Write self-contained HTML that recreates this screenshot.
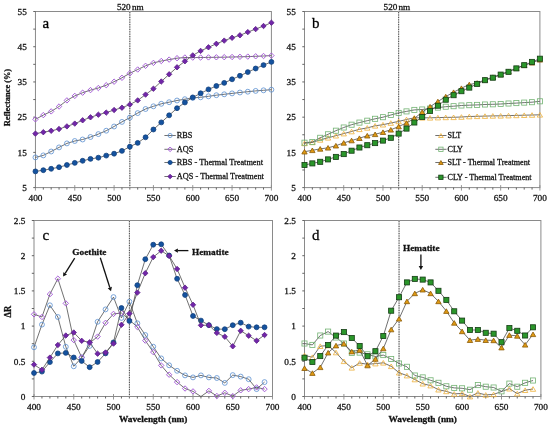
<!DOCTYPE html>
<html><head><meta charset="utf-8"><title>Reflectance spectra</title>
<style>
html,body{margin:0;padding:0;background:#fff;}
body{width:550px;height:428px;overflow:hidden;}
svg{display:block;will-change:transform;}
text{stroke:#111;stroke-width:0.28px;paint-order:stroke;}
.t{font-family:"Liberation Serif",serif;font-size:9.3px;fill:#111;}
.t5{font-family:"Liberation Serif",serif;font-size:9.2px;fill:#111;}
.lg{font-family:"Liberation Serif",serif;font-size:8.12px;fill:#111;}
.lga{font-family:"Liberation Serif",serif;font-size:8.3px;fill:#111;}
.rf{font-family:"Liberation Serif",serif;font-size:8.4px;font-weight:bold;fill:#111;}
.tb{font-family:"Liberation Serif",serif;font-size:9.3px;font-weight:bold;fill:#111;}
.lab{font-family:"Liberation Serif",serif;font-size:15px;fill:#000;}
</style></head>
<body>
<svg width="550" height="428" viewBox="0 0 550 428">
<rect width="550" height="428" fill="#fff"/>
<rect x="35.45" y="11.50" width="235.95" height="176.10" fill="none" stroke="#8a8a8a" stroke-width="1"/>
<line x1="35.45" y1="185.10" x2="35.45" y2="190.60" stroke="#8a8a8a" stroke-width="0.9"/>
<line x1="43.32" y1="187.60" x2="43.32" y2="189.60" stroke="#555" stroke-width="0.9"/>
<line x1="51.18" y1="187.60" x2="51.18" y2="189.60" stroke="#555" stroke-width="0.9"/>
<line x1="59.05" y1="187.60" x2="59.05" y2="189.60" stroke="#555" stroke-width="0.9"/>
<line x1="66.91" y1="187.60" x2="66.91" y2="189.60" stroke="#555" stroke-width="0.9"/>
<line x1="74.78" y1="185.10" x2="74.78" y2="190.60" stroke="#8a8a8a" stroke-width="0.9"/>
<line x1="82.64" y1="187.60" x2="82.64" y2="189.60" stroke="#555" stroke-width="0.9"/>
<line x1="90.50" y1="187.60" x2="90.50" y2="189.60" stroke="#555" stroke-width="0.9"/>
<line x1="98.37" y1="187.60" x2="98.37" y2="189.60" stroke="#555" stroke-width="0.9"/>
<line x1="106.23" y1="187.60" x2="106.23" y2="189.60" stroke="#555" stroke-width="0.9"/>
<line x1="114.10" y1="185.10" x2="114.10" y2="190.60" stroke="#8a8a8a" stroke-width="0.9"/>
<line x1="121.96" y1="187.60" x2="121.96" y2="189.60" stroke="#555" stroke-width="0.9"/>
<line x1="129.83" y1="187.60" x2="129.83" y2="189.60" stroke="#555" stroke-width="0.9"/>
<line x1="137.69" y1="187.60" x2="137.69" y2="189.60" stroke="#555" stroke-width="0.9"/>
<line x1="145.56" y1="187.60" x2="145.56" y2="189.60" stroke="#555" stroke-width="0.9"/>
<line x1="153.43" y1="185.10" x2="153.43" y2="190.60" stroke="#8a8a8a" stroke-width="0.9"/>
<line x1="161.29" y1="187.60" x2="161.29" y2="189.60" stroke="#555" stroke-width="0.9"/>
<line x1="169.15" y1="187.60" x2="169.15" y2="189.60" stroke="#555" stroke-width="0.9"/>
<line x1="177.02" y1="187.60" x2="177.02" y2="189.60" stroke="#555" stroke-width="0.9"/>
<line x1="184.88" y1="187.60" x2="184.88" y2="189.60" stroke="#555" stroke-width="0.9"/>
<line x1="192.75" y1="185.10" x2="192.75" y2="190.60" stroke="#8a8a8a" stroke-width="0.9"/>
<line x1="200.62" y1="187.60" x2="200.62" y2="189.60" stroke="#555" stroke-width="0.9"/>
<line x1="208.48" y1="187.60" x2="208.48" y2="189.60" stroke="#555" stroke-width="0.9"/>
<line x1="216.35" y1="187.60" x2="216.35" y2="189.60" stroke="#555" stroke-width="0.9"/>
<line x1="224.21" y1="187.60" x2="224.21" y2="189.60" stroke="#555" stroke-width="0.9"/>
<line x1="232.07" y1="185.10" x2="232.07" y2="190.60" stroke="#8a8a8a" stroke-width="0.9"/>
<line x1="239.94" y1="187.60" x2="239.94" y2="189.60" stroke="#555" stroke-width="0.9"/>
<line x1="247.81" y1="187.60" x2="247.81" y2="189.60" stroke="#555" stroke-width="0.9"/>
<line x1="255.67" y1="187.60" x2="255.67" y2="189.60" stroke="#555" stroke-width="0.9"/>
<line x1="263.53" y1="187.60" x2="263.53" y2="189.60" stroke="#555" stroke-width="0.9"/>
<line x1="271.40" y1="185.10" x2="271.40" y2="190.60" stroke="#8a8a8a" stroke-width="0.9"/>
<line x1="33.25" y1="11.50" x2="35.45" y2="11.50" stroke="#555" stroke-width="0.9"/>
<line x1="33.25" y1="29.11" x2="35.45" y2="29.11" stroke="#555" stroke-width="0.9"/>
<line x1="33.25" y1="46.72" x2="35.45" y2="46.72" stroke="#555" stroke-width="0.9"/>
<line x1="33.25" y1="64.33" x2="35.45" y2="64.33" stroke="#555" stroke-width="0.9"/>
<line x1="33.25" y1="81.94" x2="35.45" y2="81.94" stroke="#555" stroke-width="0.9"/>
<line x1="33.25" y1="99.55" x2="35.45" y2="99.55" stroke="#555" stroke-width="0.9"/>
<line x1="33.25" y1="117.16" x2="35.45" y2="117.16" stroke="#555" stroke-width="0.9"/>
<line x1="33.25" y1="134.77" x2="35.45" y2="134.77" stroke="#555" stroke-width="0.9"/>
<line x1="33.25" y1="152.38" x2="35.45" y2="152.38" stroke="#555" stroke-width="0.9"/>
<line x1="33.25" y1="169.99" x2="35.45" y2="169.99" stroke="#555" stroke-width="0.9"/>
<line x1="33.25" y1="187.60" x2="35.45" y2="187.60" stroke="#555" stroke-width="0.9"/>
<text transform="matrix(1 0 0 0.91 26.85 14.80)" class="t" text-anchor="end">55</text>
<text transform="matrix(1 0 0 0.91 26.85 50.02)" class="t" text-anchor="end">45</text>
<text transform="matrix(1 0 0 0.91 26.85 85.24)" class="t" text-anchor="end">35</text>
<text transform="matrix(1 0 0 0.91 26.85 120.46)" class="t" text-anchor="end">25</text>
<text transform="matrix(1 0 0 0.91 26.85 155.68)" class="t" text-anchor="end">15</text>
<text transform="matrix(1 0 0 0.91 26.85 190.90)" class="t" text-anchor="end">5</text>
<text transform="matrix(1 0 0 0.91 35.45 201.30)" class="t" text-anchor="middle">400</text>
<text transform="matrix(1 0 0 0.91 74.78 201.30)" class="t" text-anchor="middle">450</text>
<text transform="matrix(1 0 0 0.91 114.10 201.30)" class="t" text-anchor="middle">500</text>
<text transform="matrix(1 0 0 0.91 153.43 201.30)" class="t" text-anchor="middle">550</text>
<text transform="matrix(1 0 0 0.91 192.75 201.30)" class="t" text-anchor="middle">600</text>
<text transform="matrix(1 0 0 0.91 232.07 201.30)" class="t" text-anchor="middle">650</text>
<text transform="matrix(1 0 0 0.91 271.40 201.30)" class="t" text-anchor="middle">700</text>
<line x1="129.83" y1="11.50" x2="129.83" y2="187.60" stroke="#cfcfcf" stroke-width="1"/>
<line x1="129.83" y1="12.00" x2="129.83" y2="187.60" stroke="#4a4a4a" stroke-width="1" stroke-dasharray="1.2 1.2"/>
<text transform="matrix(1 0 0 0.91 116.90 9.80)" class="t5">520</text>
<text transform="matrix(1 0 0 0.91 131.90 9.80)" class="t5">nm</text>
<path d="M35.45 119.30 L43.32 115.10 L51.18 111.40 L59.05 106.50 L66.91 100.40 L74.78 95.90 L82.64 92.70 L90.50 90.10 L98.37 88.00 L106.23 85.20 L114.10 81.70 L121.96 77.80 L129.83 73.30 L137.69 69.50 L145.56 65.80 L153.43 62.90 L161.29 61.00 L169.15 59.60 L177.02 58.20 L184.88 57.50 L192.75 57.60 L200.62 57.50 L208.48 57.40 L216.35 57.30 L224.21 57.20 L232.07 57.00 L239.94 56.80 L247.81 56.60 L255.67 56.30 L263.53 56.00 L271.40 55.60" fill="none" stroke="#4d4d4d" stroke-width="0.8"/>
<path d="M35.45 116.60L38.15 119.30L35.45 122.00L32.75 119.30Z" fill="none" stroke="#a35ad6" stroke-width="0.95"/>
<path d="M43.32 112.40L46.02 115.10L43.32 117.80L40.62 115.10Z" fill="none" stroke="#a35ad6" stroke-width="0.95"/>
<path d="M51.18 108.70L53.88 111.40L51.18 114.10L48.48 111.40Z" fill="none" stroke="#a35ad6" stroke-width="0.95"/>
<path d="M59.05 103.80L61.75 106.50L59.05 109.20L56.34 106.50Z" fill="none" stroke="#a35ad6" stroke-width="0.95"/>
<path d="M66.91 97.70L69.61 100.40L66.91 103.10L64.21 100.40Z" fill="none" stroke="#a35ad6" stroke-width="0.95"/>
<path d="M74.78 93.20L77.48 95.90L74.78 98.60L72.08 95.90Z" fill="none" stroke="#a35ad6" stroke-width="0.95"/>
<path d="M82.64 90.00L85.34 92.70L82.64 95.40L79.94 92.70Z" fill="none" stroke="#a35ad6" stroke-width="0.95"/>
<path d="M90.50 87.40L93.20 90.10L90.50 92.80L87.80 90.10Z" fill="none" stroke="#a35ad6" stroke-width="0.95"/>
<path d="M98.37 85.30L101.07 88.00L98.37 90.70L95.67 88.00Z" fill="none" stroke="#a35ad6" stroke-width="0.95"/>
<path d="M106.23 82.50L108.94 85.20L106.23 87.90L103.53 85.20Z" fill="none" stroke="#a35ad6" stroke-width="0.95"/>
<path d="M114.10 79.00L116.80 81.70L114.10 84.40L111.40 81.70Z" fill="none" stroke="#a35ad6" stroke-width="0.95"/>
<path d="M121.96 75.10L124.66 77.80L121.96 80.50L119.26 77.80Z" fill="none" stroke="#a35ad6" stroke-width="0.95"/>
<path d="M129.83 70.60L132.53 73.30L129.83 76.00L127.13 73.30Z" fill="none" stroke="#a35ad6" stroke-width="0.95"/>
<path d="M137.69 66.80L140.39 69.50L137.69 72.20L135.00 69.50Z" fill="none" stroke="#a35ad6" stroke-width="0.95"/>
<path d="M145.56 63.10L148.26 65.80L145.56 68.50L142.86 65.80Z" fill="none" stroke="#a35ad6" stroke-width="0.95"/>
<path d="M153.43 60.20L156.12 62.90L153.43 65.60L150.73 62.90Z" fill="none" stroke="#a35ad6" stroke-width="0.95"/>
<path d="M161.29 58.30L163.99 61.00L161.29 63.70L158.59 61.00Z" fill="none" stroke="#a35ad6" stroke-width="0.95"/>
<path d="M169.15 56.90L171.85 59.60L169.15 62.30L166.45 59.60Z" fill="none" stroke="#a35ad6" stroke-width="0.95"/>
<path d="M177.02 55.50L179.72 58.20L177.02 60.90L174.32 58.20Z" fill="none" stroke="#a35ad6" stroke-width="0.95"/>
<path d="M184.88 54.80L187.58 57.50L184.88 60.20L182.19 57.50Z" fill="none" stroke="#a35ad6" stroke-width="0.95"/>
<path d="M192.75 54.90L195.45 57.60L192.75 60.30L190.05 57.60Z" fill="none" stroke="#a35ad6" stroke-width="0.95"/>
<path d="M200.62 54.80L203.31 57.50L200.62 60.20L197.92 57.50Z" fill="none" stroke="#a35ad6" stroke-width="0.95"/>
<path d="M208.48 54.70L211.18 57.40L208.48 60.10L205.78 57.40Z" fill="none" stroke="#a35ad6" stroke-width="0.95"/>
<path d="M216.35 54.60L219.05 57.30L216.35 60.00L213.65 57.30Z" fill="none" stroke="#a35ad6" stroke-width="0.95"/>
<path d="M224.21 54.50L226.91 57.20L224.21 59.90L221.51 57.20Z" fill="none" stroke="#a35ad6" stroke-width="0.95"/>
<path d="M232.07 54.30L234.77 57.00L232.07 59.70L229.38 57.00Z" fill="none" stroke="#a35ad6" stroke-width="0.95"/>
<path d="M239.94 54.10L242.64 56.80L239.94 59.50L237.24 56.80Z" fill="none" stroke="#a35ad6" stroke-width="0.95"/>
<path d="M247.81 53.90L250.50 56.60L247.81 59.30L245.11 56.60Z" fill="none" stroke="#a35ad6" stroke-width="0.95"/>
<path d="M255.67 53.60L258.37 56.30L255.67 59.00L252.97 56.30Z" fill="none" stroke="#a35ad6" stroke-width="0.95"/>
<path d="M263.53 53.30L266.23 56.00L263.53 58.70L260.83 56.00Z" fill="none" stroke="#a35ad6" stroke-width="0.95"/>
<path d="M271.40 52.90L274.10 55.60L271.40 58.30L268.70 55.60Z" fill="none" stroke="#a35ad6" stroke-width="0.95"/>
<path d="M35.45 157.40 L43.32 155.40 L51.18 151.50 L59.05 147.40 L66.91 143.40 L74.78 141.00 L82.64 139.50 L90.50 137.00 L98.37 134.10 L106.23 130.70 L114.10 126.50 L121.96 121.90 L129.83 117.60 L137.69 113.10 L145.56 109.00 L153.43 106.30 L161.29 103.80 L169.15 102.20 L177.02 100.50 L184.88 99.20 L192.75 97.90 L200.62 97.30 L208.48 96.30 L216.35 95.20 L224.21 94.30 L232.07 93.40 L239.94 92.50 L247.81 91.70 L255.67 90.90 L263.53 90.30 L271.40 89.70" fill="none" stroke="#4d4d4d" stroke-width="0.8"/>
<circle cx="35.45" cy="157.40" r="2.45" fill="none" stroke="#5b8fd0" stroke-width="0.8"/>
<circle cx="43.32" cy="155.40" r="2.45" fill="none" stroke="#5b8fd0" stroke-width="0.8"/>
<circle cx="51.18" cy="151.50" r="2.45" fill="none" stroke="#5b8fd0" stroke-width="0.8"/>
<circle cx="59.05" cy="147.40" r="2.45" fill="none" stroke="#5b8fd0" stroke-width="0.8"/>
<circle cx="66.91" cy="143.40" r="2.45" fill="none" stroke="#5b8fd0" stroke-width="0.8"/>
<circle cx="74.78" cy="141.00" r="2.45" fill="none" stroke="#5b8fd0" stroke-width="0.8"/>
<circle cx="82.64" cy="139.50" r="2.45" fill="none" stroke="#5b8fd0" stroke-width="0.8"/>
<circle cx="90.50" cy="137.00" r="2.45" fill="none" stroke="#5b8fd0" stroke-width="0.8"/>
<circle cx="98.37" cy="134.10" r="2.45" fill="none" stroke="#5b8fd0" stroke-width="0.8"/>
<circle cx="106.23" cy="130.70" r="2.45" fill="none" stroke="#5b8fd0" stroke-width="0.8"/>
<circle cx="114.10" cy="126.50" r="2.45" fill="none" stroke="#5b8fd0" stroke-width="0.8"/>
<circle cx="121.96" cy="121.90" r="2.45" fill="none" stroke="#5b8fd0" stroke-width="0.8"/>
<circle cx="129.83" cy="117.60" r="2.45" fill="none" stroke="#5b8fd0" stroke-width="0.8"/>
<circle cx="137.69" cy="113.10" r="2.45" fill="none" stroke="#5b8fd0" stroke-width="0.8"/>
<circle cx="145.56" cy="109.00" r="2.45" fill="none" stroke="#5b8fd0" stroke-width="0.8"/>
<circle cx="153.43" cy="106.30" r="2.45" fill="none" stroke="#5b8fd0" stroke-width="0.8"/>
<circle cx="161.29" cy="103.80" r="2.45" fill="none" stroke="#5b8fd0" stroke-width="0.8"/>
<circle cx="169.15" cy="102.20" r="2.45" fill="none" stroke="#5b8fd0" stroke-width="0.8"/>
<circle cx="177.02" cy="100.50" r="2.45" fill="none" stroke="#5b8fd0" stroke-width="0.8"/>
<circle cx="184.88" cy="99.20" r="2.45" fill="none" stroke="#5b8fd0" stroke-width="0.8"/>
<circle cx="192.75" cy="97.90" r="2.45" fill="none" stroke="#5b8fd0" stroke-width="0.8"/>
<circle cx="200.62" cy="97.30" r="2.45" fill="none" stroke="#5b8fd0" stroke-width="0.8"/>
<circle cx="208.48" cy="96.30" r="2.45" fill="none" stroke="#5b8fd0" stroke-width="0.8"/>
<circle cx="216.35" cy="95.20" r="2.45" fill="none" stroke="#5b8fd0" stroke-width="0.8"/>
<circle cx="224.21" cy="94.30" r="2.45" fill="none" stroke="#5b8fd0" stroke-width="0.8"/>
<circle cx="232.07" cy="93.40" r="2.45" fill="none" stroke="#5b8fd0" stroke-width="0.8"/>
<circle cx="239.94" cy="92.50" r="2.45" fill="none" stroke="#5b8fd0" stroke-width="0.8"/>
<circle cx="247.81" cy="91.70" r="2.45" fill="none" stroke="#5b8fd0" stroke-width="0.8"/>
<circle cx="255.67" cy="90.90" r="2.45" fill="none" stroke="#5b8fd0" stroke-width="0.8"/>
<circle cx="263.53" cy="90.30" r="2.45" fill="none" stroke="#5b8fd0" stroke-width="0.8"/>
<circle cx="271.40" cy="89.70" r="2.45" fill="none" stroke="#5b8fd0" stroke-width="0.8"/>
<path d="M35.45 171.40 L43.32 170.20 L51.18 168.80 L59.05 167.20 L66.91 165.00 L74.78 162.90 L82.64 160.80 L90.50 158.90 L98.37 157.70 L106.23 155.60 L114.10 153.70 L121.96 150.90 L129.83 146.70 L137.69 142.90 L145.56 137.30 L153.43 129.50 L161.29 122.40 L169.15 115.30 L177.02 108.20 L184.88 102.50 L192.75 97.40 L200.62 93.30 L208.48 89.40 L216.35 86.00 L224.21 82.90 L232.07 79.30 L239.94 75.80 L247.81 72.10 L255.67 68.50 L263.53 65.10 L271.40 61.90" fill="none" stroke="#4d4d4d" stroke-width="0.8"/>
<circle cx="35.45" cy="171.40" r="2.45" fill="#14529f" stroke="#0f3f7c" stroke-width="0.8"/>
<circle cx="43.32" cy="170.20" r="2.45" fill="#14529f" stroke="#0f3f7c" stroke-width="0.8"/>
<circle cx="51.18" cy="168.80" r="2.45" fill="#14529f" stroke="#0f3f7c" stroke-width="0.8"/>
<circle cx="59.05" cy="167.20" r="2.45" fill="#14529f" stroke="#0f3f7c" stroke-width="0.8"/>
<circle cx="66.91" cy="165.00" r="2.45" fill="#14529f" stroke="#0f3f7c" stroke-width="0.8"/>
<circle cx="74.78" cy="162.90" r="2.45" fill="#14529f" stroke="#0f3f7c" stroke-width="0.8"/>
<circle cx="82.64" cy="160.80" r="2.45" fill="#14529f" stroke="#0f3f7c" stroke-width="0.8"/>
<circle cx="90.50" cy="158.90" r="2.45" fill="#14529f" stroke="#0f3f7c" stroke-width="0.8"/>
<circle cx="98.37" cy="157.70" r="2.45" fill="#14529f" stroke="#0f3f7c" stroke-width="0.8"/>
<circle cx="106.23" cy="155.60" r="2.45" fill="#14529f" stroke="#0f3f7c" stroke-width="0.8"/>
<circle cx="114.10" cy="153.70" r="2.45" fill="#14529f" stroke="#0f3f7c" stroke-width="0.8"/>
<circle cx="121.96" cy="150.90" r="2.45" fill="#14529f" stroke="#0f3f7c" stroke-width="0.8"/>
<circle cx="129.83" cy="146.70" r="2.45" fill="#14529f" stroke="#0f3f7c" stroke-width="0.8"/>
<circle cx="137.69" cy="142.90" r="2.45" fill="#14529f" stroke="#0f3f7c" stroke-width="0.8"/>
<circle cx="145.56" cy="137.30" r="2.45" fill="#14529f" stroke="#0f3f7c" stroke-width="0.8"/>
<circle cx="153.43" cy="129.50" r="2.45" fill="#14529f" stroke="#0f3f7c" stroke-width="0.8"/>
<circle cx="161.29" cy="122.40" r="2.45" fill="#14529f" stroke="#0f3f7c" stroke-width="0.8"/>
<circle cx="169.15" cy="115.30" r="2.45" fill="#14529f" stroke="#0f3f7c" stroke-width="0.8"/>
<circle cx="177.02" cy="108.20" r="2.45" fill="#14529f" stroke="#0f3f7c" stroke-width="0.8"/>
<circle cx="184.88" cy="102.50" r="2.45" fill="#14529f" stroke="#0f3f7c" stroke-width="0.8"/>
<circle cx="192.75" cy="97.40" r="2.45" fill="#14529f" stroke="#0f3f7c" stroke-width="0.8"/>
<circle cx="200.62" cy="93.30" r="2.45" fill="#14529f" stroke="#0f3f7c" stroke-width="0.8"/>
<circle cx="208.48" cy="89.40" r="2.45" fill="#14529f" stroke="#0f3f7c" stroke-width="0.8"/>
<circle cx="216.35" cy="86.00" r="2.45" fill="#14529f" stroke="#0f3f7c" stroke-width="0.8"/>
<circle cx="224.21" cy="82.90" r="2.45" fill="#14529f" stroke="#0f3f7c" stroke-width="0.8"/>
<circle cx="232.07" cy="79.30" r="2.45" fill="#14529f" stroke="#0f3f7c" stroke-width="0.8"/>
<circle cx="239.94" cy="75.80" r="2.45" fill="#14529f" stroke="#0f3f7c" stroke-width="0.8"/>
<circle cx="247.81" cy="72.10" r="2.45" fill="#14529f" stroke="#0f3f7c" stroke-width="0.8"/>
<circle cx="255.67" cy="68.50" r="2.45" fill="#14529f" stroke="#0f3f7c" stroke-width="0.8"/>
<circle cx="263.53" cy="65.10" r="2.45" fill="#14529f" stroke="#0f3f7c" stroke-width="0.8"/>
<circle cx="271.40" cy="61.90" r="2.45" fill="#14529f" stroke="#0f3f7c" stroke-width="0.8"/>
<path d="M35.45 133.60 L43.32 132.20 L51.18 130.80 L59.05 129.00 L66.91 126.40 L74.78 123.60 L82.64 120.30 L90.50 117.30 L98.37 114.70 L106.23 112.60 L114.10 110.00 L121.96 107.70 L129.83 104.60 L137.69 100.40 L145.56 94.60 L153.43 88.70 L161.29 81.50 L169.15 74.30 L177.02 67.30 L184.88 61.30 L192.75 55.40 L200.62 50.90 L208.48 47.30 L216.35 43.80 L224.21 40.60 L232.07 37.80 L239.94 35.30 L247.81 32.10 L255.67 29.10 L263.53 26.00 L271.40 22.70" fill="none" stroke="#4d4d4d" stroke-width="0.8"/>
<path d="M35.45 130.90L38.15 133.60L35.45 136.30L32.75 133.60Z" fill="#7126a8" stroke="#5c1f88" stroke-width="0.8"/>
<path d="M43.32 129.50L46.02 132.20L43.32 134.90L40.62 132.20Z" fill="#7126a8" stroke="#5c1f88" stroke-width="0.8"/>
<path d="M51.18 128.10L53.88 130.80L51.18 133.50L48.48 130.80Z" fill="#7126a8" stroke="#5c1f88" stroke-width="0.8"/>
<path d="M59.05 126.30L61.75 129.00L59.05 131.70L56.34 129.00Z" fill="#7126a8" stroke="#5c1f88" stroke-width="0.8"/>
<path d="M66.91 123.70L69.61 126.40L66.91 129.10L64.21 126.40Z" fill="#7126a8" stroke="#5c1f88" stroke-width="0.8"/>
<path d="M74.78 120.90L77.48 123.60L74.78 126.30L72.08 123.60Z" fill="#7126a8" stroke="#5c1f88" stroke-width="0.8"/>
<path d="M82.64 117.60L85.34 120.30L82.64 123.00L79.94 120.30Z" fill="#7126a8" stroke="#5c1f88" stroke-width="0.8"/>
<path d="M90.50 114.60L93.20 117.30L90.50 120.00L87.80 117.30Z" fill="#7126a8" stroke="#5c1f88" stroke-width="0.8"/>
<path d="M98.37 112.00L101.07 114.70L98.37 117.40L95.67 114.70Z" fill="#7126a8" stroke="#5c1f88" stroke-width="0.8"/>
<path d="M106.23 109.90L108.94 112.60L106.23 115.30L103.53 112.60Z" fill="#7126a8" stroke="#5c1f88" stroke-width="0.8"/>
<path d="M114.10 107.30L116.80 110.00L114.10 112.70L111.40 110.00Z" fill="#7126a8" stroke="#5c1f88" stroke-width="0.8"/>
<path d="M121.96 105.00L124.66 107.70L121.96 110.40L119.26 107.70Z" fill="#7126a8" stroke="#5c1f88" stroke-width="0.8"/>
<path d="M129.83 101.90L132.53 104.60L129.83 107.30L127.13 104.60Z" fill="#7126a8" stroke="#5c1f88" stroke-width="0.8"/>
<path d="M137.69 97.70L140.39 100.40L137.69 103.10L135.00 100.40Z" fill="#7126a8" stroke="#5c1f88" stroke-width="0.8"/>
<path d="M145.56 91.90L148.26 94.60L145.56 97.30L142.86 94.60Z" fill="#7126a8" stroke="#5c1f88" stroke-width="0.8"/>
<path d="M153.43 86.00L156.12 88.70L153.43 91.40L150.73 88.70Z" fill="#7126a8" stroke="#5c1f88" stroke-width="0.8"/>
<path d="M161.29 78.80L163.99 81.50L161.29 84.20L158.59 81.50Z" fill="#7126a8" stroke="#5c1f88" stroke-width="0.8"/>
<path d="M169.15 71.60L171.85 74.30L169.15 77.00L166.45 74.30Z" fill="#7126a8" stroke="#5c1f88" stroke-width="0.8"/>
<path d="M177.02 64.60L179.72 67.30L177.02 70.00L174.32 67.30Z" fill="#7126a8" stroke="#5c1f88" stroke-width="0.8"/>
<path d="M184.88 58.60L187.58 61.30L184.88 64.00L182.19 61.30Z" fill="#7126a8" stroke="#5c1f88" stroke-width="0.8"/>
<path d="M192.75 52.70L195.45 55.40L192.75 58.10L190.05 55.40Z" fill="#7126a8" stroke="#5c1f88" stroke-width="0.8"/>
<path d="M200.62 48.20L203.31 50.90L200.62 53.60L197.92 50.90Z" fill="#7126a8" stroke="#5c1f88" stroke-width="0.8"/>
<path d="M208.48 44.60L211.18 47.30L208.48 50.00L205.78 47.30Z" fill="#7126a8" stroke="#5c1f88" stroke-width="0.8"/>
<path d="M216.35 41.10L219.05 43.80L216.35 46.50L213.65 43.80Z" fill="#7126a8" stroke="#5c1f88" stroke-width="0.8"/>
<path d="M224.21 37.90L226.91 40.60L224.21 43.30L221.51 40.60Z" fill="#7126a8" stroke="#5c1f88" stroke-width="0.8"/>
<path d="M232.07 35.10L234.77 37.80L232.07 40.50L229.38 37.80Z" fill="#7126a8" stroke="#5c1f88" stroke-width="0.8"/>
<path d="M239.94 32.60L242.64 35.30L239.94 38.00L237.24 35.30Z" fill="#7126a8" stroke="#5c1f88" stroke-width="0.8"/>
<path d="M247.81 29.40L250.50 32.10L247.81 34.80L245.11 32.10Z" fill="#7126a8" stroke="#5c1f88" stroke-width="0.8"/>
<path d="M255.67 26.40L258.37 29.10L255.67 31.80L252.97 29.10Z" fill="#7126a8" stroke="#5c1f88" stroke-width="0.8"/>
<path d="M263.53 23.30L266.23 26.00L263.53 28.70L260.83 26.00Z" fill="#7126a8" stroke="#5c1f88" stroke-width="0.8"/>
<path d="M271.40 20.00L274.10 22.70L271.40 25.40L268.70 22.70Z" fill="#7126a8" stroke="#5c1f88" stroke-width="0.8"/>
<text x="42.5" y="28.2" class="lab">a</text>
<line x1="164.40" y1="135.50" x2="175.80" y2="135.50" stroke="#4d4d4d" stroke-width="0.8"/>
<circle cx="170.10" cy="135.50" r="2.08" fill="none" stroke="#5b8fd0" stroke-width="0.8"/>
<text transform="matrix(1 0 0 0.91 176.80 138.20)" class="lga">RBS</text>
<line x1="164.40" y1="149.30" x2="175.80" y2="149.30" stroke="#4d4d4d" stroke-width="0.8"/>
<path d="M170.10 147.01L172.40 149.30L170.10 151.59L167.81 149.30Z" fill="none" stroke="#a35ad6" stroke-width="0.95"/>
<text transform="matrix(1 0 0 0.91 176.80 152.00)" class="lga">AQS</text>
<line x1="164.40" y1="162.50" x2="175.80" y2="162.50" stroke="#4d4d4d" stroke-width="0.8"/>
<circle cx="170.10" cy="162.50" r="2.08" fill="#14529f" stroke="#0f3f7c" stroke-width="0.8"/>
<text transform="matrix(1 0 0 0.91 176.80 165.20)" class="lga">RBS - Thermal Treatment</text>
<line x1="164.40" y1="176.50" x2="175.80" y2="176.50" stroke="#4d4d4d" stroke-width="0.8"/>
<path d="M170.10 174.21L172.40 176.50L170.10 178.79L167.81 176.50Z" fill="#7126a8" stroke="#5c1f88" stroke-width="0.8"/>
<text transform="matrix(1 0 0 0.91 176.80 179.20)" class="lga">AQS - Thermal Treatment</text>
<text class="rf" transform="translate(10.4 97.55) rotate(-90)" text-anchor="middle">Reflectance (%)</text>
<rect x="304.50" y="11.50" width="235.40" height="176.10" fill="none" stroke="#8a8a8a" stroke-width="1"/>
<line x1="304.50" y1="185.10" x2="304.50" y2="190.60" stroke="#8a8a8a" stroke-width="0.9"/>
<line x1="312.35" y1="187.60" x2="312.35" y2="189.60" stroke="#555" stroke-width="0.9"/>
<line x1="320.19" y1="187.60" x2="320.19" y2="189.60" stroke="#555" stroke-width="0.9"/>
<line x1="328.04" y1="187.60" x2="328.04" y2="189.60" stroke="#555" stroke-width="0.9"/>
<line x1="335.89" y1="187.60" x2="335.89" y2="189.60" stroke="#555" stroke-width="0.9"/>
<line x1="343.73" y1="185.10" x2="343.73" y2="190.60" stroke="#8a8a8a" stroke-width="0.9"/>
<line x1="351.58" y1="187.60" x2="351.58" y2="189.60" stroke="#555" stroke-width="0.9"/>
<line x1="359.43" y1="187.60" x2="359.43" y2="189.60" stroke="#555" stroke-width="0.9"/>
<line x1="367.27" y1="187.60" x2="367.27" y2="189.60" stroke="#555" stroke-width="0.9"/>
<line x1="375.12" y1="187.60" x2="375.12" y2="189.60" stroke="#555" stroke-width="0.9"/>
<line x1="382.97" y1="185.10" x2="382.97" y2="190.60" stroke="#8a8a8a" stroke-width="0.9"/>
<line x1="390.81" y1="187.60" x2="390.81" y2="189.60" stroke="#555" stroke-width="0.9"/>
<line x1="398.66" y1="187.60" x2="398.66" y2="189.60" stroke="#555" stroke-width="0.9"/>
<line x1="406.51" y1="187.60" x2="406.51" y2="189.60" stroke="#555" stroke-width="0.9"/>
<line x1="414.35" y1="187.60" x2="414.35" y2="189.60" stroke="#555" stroke-width="0.9"/>
<line x1="422.20" y1="185.10" x2="422.20" y2="190.60" stroke="#8a8a8a" stroke-width="0.9"/>
<line x1="430.05" y1="187.60" x2="430.05" y2="189.60" stroke="#555" stroke-width="0.9"/>
<line x1="437.89" y1="187.60" x2="437.89" y2="189.60" stroke="#555" stroke-width="0.9"/>
<line x1="445.74" y1="187.60" x2="445.74" y2="189.60" stroke="#555" stroke-width="0.9"/>
<line x1="453.59" y1="187.60" x2="453.59" y2="189.60" stroke="#555" stroke-width="0.9"/>
<line x1="461.43" y1="185.10" x2="461.43" y2="190.60" stroke="#8a8a8a" stroke-width="0.9"/>
<line x1="469.28" y1="187.60" x2="469.28" y2="189.60" stroke="#555" stroke-width="0.9"/>
<line x1="477.13" y1="187.60" x2="477.13" y2="189.60" stroke="#555" stroke-width="0.9"/>
<line x1="484.97" y1="187.60" x2="484.97" y2="189.60" stroke="#555" stroke-width="0.9"/>
<line x1="492.82" y1="187.60" x2="492.82" y2="189.60" stroke="#555" stroke-width="0.9"/>
<line x1="500.67" y1="185.10" x2="500.67" y2="190.60" stroke="#8a8a8a" stroke-width="0.9"/>
<line x1="508.51" y1="187.60" x2="508.51" y2="189.60" stroke="#555" stroke-width="0.9"/>
<line x1="516.36" y1="187.60" x2="516.36" y2="189.60" stroke="#555" stroke-width="0.9"/>
<line x1="524.21" y1="187.60" x2="524.21" y2="189.60" stroke="#555" stroke-width="0.9"/>
<line x1="532.05" y1="187.60" x2="532.05" y2="189.60" stroke="#555" stroke-width="0.9"/>
<line x1="539.90" y1="185.10" x2="539.90" y2="190.60" stroke="#8a8a8a" stroke-width="0.9"/>
<line x1="302.30" y1="11.50" x2="304.50" y2="11.50" stroke="#555" stroke-width="0.9"/>
<line x1="302.30" y1="29.11" x2="304.50" y2="29.11" stroke="#555" stroke-width="0.9"/>
<line x1="302.30" y1="46.72" x2="304.50" y2="46.72" stroke="#555" stroke-width="0.9"/>
<line x1="302.30" y1="64.33" x2="304.50" y2="64.33" stroke="#555" stroke-width="0.9"/>
<line x1="302.30" y1="81.94" x2="304.50" y2="81.94" stroke="#555" stroke-width="0.9"/>
<line x1="302.30" y1="99.55" x2="304.50" y2="99.55" stroke="#555" stroke-width="0.9"/>
<line x1="302.30" y1="117.16" x2="304.50" y2="117.16" stroke="#555" stroke-width="0.9"/>
<line x1="302.30" y1="134.77" x2="304.50" y2="134.77" stroke="#555" stroke-width="0.9"/>
<line x1="302.30" y1="152.38" x2="304.50" y2="152.38" stroke="#555" stroke-width="0.9"/>
<line x1="302.30" y1="169.99" x2="304.50" y2="169.99" stroke="#555" stroke-width="0.9"/>
<line x1="302.30" y1="187.60" x2="304.50" y2="187.60" stroke="#555" stroke-width="0.9"/>
<text transform="matrix(1 0 0 0.91 295.90 14.80)" class="t" text-anchor="end">55</text>
<text transform="matrix(1 0 0 0.91 295.90 50.02)" class="t" text-anchor="end">45</text>
<text transform="matrix(1 0 0 0.91 295.90 85.24)" class="t" text-anchor="end">35</text>
<text transform="matrix(1 0 0 0.91 295.90 120.46)" class="t" text-anchor="end">25</text>
<text transform="matrix(1 0 0 0.91 295.90 155.68)" class="t" text-anchor="end">15</text>
<text transform="matrix(1 0 0 0.91 295.90 190.90)" class="t" text-anchor="end">5</text>
<text transform="matrix(1 0 0 0.91 304.50 201.30)" class="t" text-anchor="middle">400</text>
<text transform="matrix(1 0 0 0.91 343.73 201.30)" class="t" text-anchor="middle">450</text>
<text transform="matrix(1 0 0 0.91 382.97 201.30)" class="t" text-anchor="middle">500</text>
<text transform="matrix(1 0 0 0.91 422.20 201.30)" class="t" text-anchor="middle">550</text>
<text transform="matrix(1 0 0 0.91 461.43 201.30)" class="t" text-anchor="middle">600</text>
<text transform="matrix(1 0 0 0.91 500.67 201.30)" class="t" text-anchor="middle">650</text>
<text transform="matrix(1 0 0 0.91 539.90 201.30)" class="t" text-anchor="middle">700</text>
<line x1="398.66" y1="11.50" x2="398.66" y2="187.60" stroke="#cfcfcf" stroke-width="1"/>
<line x1="398.66" y1="12.00" x2="398.66" y2="187.60" stroke="#4a4a4a" stroke-width="1" stroke-dasharray="1.2 1.2"/>
<text transform="matrix(1 0 0 0.91 383.60 9.80)" class="t5">520</text>
<text transform="matrix(1 0 0 0.91 398.50 9.80)" class="t5">nm</text>
<path d="M304.50 143.40 L312.35 142.40 L320.19 139.90 L328.04 137.80 L335.89 135.70 L343.73 133.60 L351.58 131.50 L359.43 129.30 L367.27 127.90 L375.12 125.80 L382.97 124.70 L390.81 123.00 L398.66 121.40 L406.51 119.50 L414.35 117.80 L422.20 117.80 L430.05 117.80 L437.89 117.60 L445.74 117.40 L453.59 117.30 L461.43 117.00 L469.28 116.50 L477.13 116.30 L484.97 116.10 L492.82 115.90 L500.67 115.80 L508.51 115.60 L516.36 115.40 L524.21 115.20 L532.05 115.00 L539.90 114.80" fill="none" stroke="#4d4d4d" stroke-width="0.8"/>
<path d="M304.50 141.10L307.20 145.70L301.80 145.70Z" fill="none" stroke="#eeb03a" stroke-width="0.8" stroke-linejoin="miter"/>
<path d="M312.35 140.10L315.05 144.70L309.65 144.70Z" fill="none" stroke="#eeb03a" stroke-width="0.8" stroke-linejoin="miter"/>
<path d="M320.19 137.60L322.89 142.20L317.49 142.20Z" fill="none" stroke="#eeb03a" stroke-width="0.8" stroke-linejoin="miter"/>
<path d="M328.04 135.50L330.74 140.10L325.34 140.10Z" fill="none" stroke="#eeb03a" stroke-width="0.8" stroke-linejoin="miter"/>
<path d="M335.89 133.40L338.59 138.00L333.19 138.00Z" fill="none" stroke="#eeb03a" stroke-width="0.8" stroke-linejoin="miter"/>
<path d="M343.73 131.30L346.43 135.90L341.03 135.90Z" fill="none" stroke="#eeb03a" stroke-width="0.8" stroke-linejoin="miter"/>
<path d="M351.58 129.20L354.28 133.80L348.88 133.80Z" fill="none" stroke="#eeb03a" stroke-width="0.8" stroke-linejoin="miter"/>
<path d="M359.43 127.00L362.13 131.60L356.73 131.60Z" fill="none" stroke="#eeb03a" stroke-width="0.8" stroke-linejoin="miter"/>
<path d="M367.27 125.60L369.97 130.20L364.57 130.20Z" fill="none" stroke="#eeb03a" stroke-width="0.8" stroke-linejoin="miter"/>
<path d="M375.12 123.50L377.82 128.10L372.42 128.10Z" fill="none" stroke="#eeb03a" stroke-width="0.8" stroke-linejoin="miter"/>
<path d="M382.97 122.40L385.67 127.00L380.27 127.00Z" fill="none" stroke="#eeb03a" stroke-width="0.8" stroke-linejoin="miter"/>
<path d="M390.81 120.70L393.51 125.30L388.11 125.30Z" fill="none" stroke="#eeb03a" stroke-width="0.8" stroke-linejoin="miter"/>
<path d="M398.66 119.10L401.36 123.70L395.96 123.70Z" fill="none" stroke="#eeb03a" stroke-width="0.8" stroke-linejoin="miter"/>
<path d="M406.51 117.20L409.21 121.80L403.81 121.80Z" fill="none" stroke="#eeb03a" stroke-width="0.8" stroke-linejoin="miter"/>
<path d="M414.35 115.50L417.05 120.10L411.65 120.10Z" fill="none" stroke="#eeb03a" stroke-width="0.8" stroke-linejoin="miter"/>
<path d="M422.20 115.50L424.90 120.10L419.50 120.10Z" fill="none" stroke="#eeb03a" stroke-width="0.8" stroke-linejoin="miter"/>
<path d="M430.05 115.50L432.75 120.10L427.35 120.10Z" fill="none" stroke="#eeb03a" stroke-width="0.8" stroke-linejoin="miter"/>
<path d="M437.89 115.30L440.59 119.90L435.19 119.90Z" fill="none" stroke="#eeb03a" stroke-width="0.8" stroke-linejoin="miter"/>
<path d="M445.74 115.10L448.44 119.70L443.04 119.70Z" fill="none" stroke="#eeb03a" stroke-width="0.8" stroke-linejoin="miter"/>
<path d="M453.59 115.00L456.29 119.60L450.89 119.60Z" fill="none" stroke="#eeb03a" stroke-width="0.8" stroke-linejoin="miter"/>
<path d="M461.43 114.70L464.13 119.30L458.73 119.30Z" fill="none" stroke="#eeb03a" stroke-width="0.8" stroke-linejoin="miter"/>
<path d="M469.28 114.20L471.98 118.80L466.58 118.80Z" fill="none" stroke="#eeb03a" stroke-width="0.8" stroke-linejoin="miter"/>
<path d="M477.13 114.00L479.83 118.60L474.43 118.60Z" fill="none" stroke="#eeb03a" stroke-width="0.8" stroke-linejoin="miter"/>
<path d="M484.97 113.80L487.67 118.40L482.27 118.40Z" fill="none" stroke="#eeb03a" stroke-width="0.8" stroke-linejoin="miter"/>
<path d="M492.82 113.60L495.52 118.20L490.12 118.20Z" fill="none" stroke="#eeb03a" stroke-width="0.8" stroke-linejoin="miter"/>
<path d="M500.67 113.50L503.37 118.10L497.97 118.10Z" fill="none" stroke="#eeb03a" stroke-width="0.8" stroke-linejoin="miter"/>
<path d="M508.51 113.30L511.21 117.90L505.81 117.90Z" fill="none" stroke="#eeb03a" stroke-width="0.8" stroke-linejoin="miter"/>
<path d="M516.36 113.10L519.06 117.70L513.66 117.70Z" fill="none" stroke="#eeb03a" stroke-width="0.8" stroke-linejoin="miter"/>
<path d="M524.21 112.90L526.91 117.50L521.51 117.50Z" fill="none" stroke="#eeb03a" stroke-width="0.8" stroke-linejoin="miter"/>
<path d="M532.05 112.70L534.75 117.30L529.35 117.30Z" fill="none" stroke="#eeb03a" stroke-width="0.8" stroke-linejoin="miter"/>
<path d="M539.90 112.50L542.60 117.10L537.20 117.10Z" fill="none" stroke="#eeb03a" stroke-width="0.8" stroke-linejoin="miter"/>
<path d="M304.50 142.70 L312.35 142.00 L320.19 137.80 L328.04 134.30 L335.89 130.70 L343.73 127.50 L351.58 124.70 L359.43 122.60 L367.27 120.70 L375.12 118.80 L382.97 117.20 L390.81 115.00 L398.66 112.90 L406.51 111.40 L414.35 109.90 L422.20 109.50 L430.05 108.60 L437.89 107.60 L445.74 106.70 L453.59 106.20 L461.43 105.50 L469.28 105.20 L477.13 104.90 L484.97 104.50 L492.82 104.30 L500.67 104.00 L508.51 103.50 L516.36 103.10 L524.21 102.60 L532.05 102.20 L539.90 101.30" fill="none" stroke="#4d4d4d" stroke-width="0.8"/>
<rect x="301.95" y="140.15" width="5.10" height="5.10" fill="none" stroke="#72b272" stroke-width="0.8"/>
<rect x="309.80" y="139.45" width="5.10" height="5.10" fill="none" stroke="#72b272" stroke-width="0.8"/>
<rect x="317.64" y="135.25" width="5.10" height="5.10" fill="none" stroke="#72b272" stroke-width="0.8"/>
<rect x="325.49" y="131.75" width="5.10" height="5.10" fill="none" stroke="#72b272" stroke-width="0.8"/>
<rect x="333.34" y="128.15" width="5.10" height="5.10" fill="none" stroke="#72b272" stroke-width="0.8"/>
<rect x="341.18" y="124.95" width="5.10" height="5.10" fill="none" stroke="#72b272" stroke-width="0.8"/>
<rect x="349.03" y="122.15" width="5.10" height="5.10" fill="none" stroke="#72b272" stroke-width="0.8"/>
<rect x="356.88" y="120.05" width="5.10" height="5.10" fill="none" stroke="#72b272" stroke-width="0.8"/>
<rect x="364.72" y="118.15" width="5.10" height="5.10" fill="none" stroke="#72b272" stroke-width="0.8"/>
<rect x="372.57" y="116.25" width="5.10" height="5.10" fill="none" stroke="#72b272" stroke-width="0.8"/>
<rect x="380.42" y="114.65" width="5.10" height="5.10" fill="none" stroke="#72b272" stroke-width="0.8"/>
<rect x="388.26" y="112.45" width="5.10" height="5.10" fill="none" stroke="#72b272" stroke-width="0.8"/>
<rect x="396.11" y="110.35" width="5.10" height="5.10" fill="none" stroke="#72b272" stroke-width="0.8"/>
<rect x="403.96" y="108.85" width="5.10" height="5.10" fill="none" stroke="#72b272" stroke-width="0.8"/>
<rect x="411.80" y="107.35" width="5.10" height="5.10" fill="none" stroke="#72b272" stroke-width="0.8"/>
<rect x="419.65" y="106.95" width="5.10" height="5.10" fill="none" stroke="#72b272" stroke-width="0.8"/>
<rect x="427.50" y="106.05" width="5.10" height="5.10" fill="none" stroke="#72b272" stroke-width="0.8"/>
<rect x="435.34" y="105.05" width="5.10" height="5.10" fill="none" stroke="#72b272" stroke-width="0.8"/>
<rect x="443.19" y="104.15" width="5.10" height="5.10" fill="none" stroke="#72b272" stroke-width="0.8"/>
<rect x="451.04" y="103.65" width="5.10" height="5.10" fill="none" stroke="#72b272" stroke-width="0.8"/>
<rect x="458.88" y="102.95" width="5.10" height="5.10" fill="none" stroke="#72b272" stroke-width="0.8"/>
<rect x="466.73" y="102.65" width="5.10" height="5.10" fill="none" stroke="#72b272" stroke-width="0.8"/>
<rect x="474.58" y="102.35" width="5.10" height="5.10" fill="none" stroke="#72b272" stroke-width="0.8"/>
<rect x="482.42" y="101.95" width="5.10" height="5.10" fill="none" stroke="#72b272" stroke-width="0.8"/>
<rect x="490.27" y="101.75" width="5.10" height="5.10" fill="none" stroke="#72b272" stroke-width="0.8"/>
<rect x="498.12" y="101.45" width="5.10" height="5.10" fill="none" stroke="#72b272" stroke-width="0.8"/>
<rect x="505.96" y="100.95" width="5.10" height="5.10" fill="none" stroke="#72b272" stroke-width="0.8"/>
<rect x="513.81" y="100.55" width="5.10" height="5.10" fill="none" stroke="#72b272" stroke-width="0.8"/>
<rect x="521.66" y="100.05" width="5.10" height="5.10" fill="none" stroke="#72b272" stroke-width="0.8"/>
<rect x="529.50" y="99.65" width="5.10" height="5.10" fill="none" stroke="#72b272" stroke-width="0.8"/>
<rect x="537.35" y="98.75" width="5.10" height="5.10" fill="none" stroke="#72b272" stroke-width="0.8"/>
<path d="M304.50 151.70 L312.35 150.30 L320.19 148.90 L328.04 147.80 L335.89 145.70 L343.73 142.90 L351.58 140.50 L359.43 138.20 L367.27 135.70 L375.12 134.30 L382.97 132.20 L390.81 129.80 L398.66 126.50 L406.51 123.00 L414.35 118.40 L422.20 112.10 L430.05 106.70 L437.89 101.50 L445.74 96.60 L453.59 92.20 L461.43 88.20 L469.28 84.50 L477.13 83.00 L484.97 79.80 L492.82 77.20 L500.67 74.40 L508.51 71.50 L516.36 68.20 L524.21 65.20 L532.05 62.80 L539.90 59.80" fill="none" stroke="#4d4d4d" stroke-width="0.8"/>
<path d="M304.50 149.40L307.20 154.00L301.80 154.00Z" fill="#e09a12" stroke="#8a5a08" stroke-width="0.8" stroke-linejoin="miter"/>
<path d="M312.35 148.00L315.05 152.60L309.65 152.60Z" fill="#e09a12" stroke="#8a5a08" stroke-width="0.8" stroke-linejoin="miter"/>
<path d="M320.19 146.60L322.89 151.20L317.49 151.20Z" fill="#e09a12" stroke="#8a5a08" stroke-width="0.8" stroke-linejoin="miter"/>
<path d="M328.04 145.50L330.74 150.10L325.34 150.10Z" fill="#e09a12" stroke="#8a5a08" stroke-width="0.8" stroke-linejoin="miter"/>
<path d="M335.89 143.40L338.59 148.00L333.19 148.00Z" fill="#e09a12" stroke="#8a5a08" stroke-width="0.8" stroke-linejoin="miter"/>
<path d="M343.73 140.60L346.43 145.20L341.03 145.20Z" fill="#e09a12" stroke="#8a5a08" stroke-width="0.8" stroke-linejoin="miter"/>
<path d="M351.58 138.20L354.28 142.80L348.88 142.80Z" fill="#e09a12" stroke="#8a5a08" stroke-width="0.8" stroke-linejoin="miter"/>
<path d="M359.43 135.90L362.13 140.50L356.73 140.50Z" fill="#e09a12" stroke="#8a5a08" stroke-width="0.8" stroke-linejoin="miter"/>
<path d="M367.27 133.40L369.97 138.00L364.57 138.00Z" fill="#e09a12" stroke="#8a5a08" stroke-width="0.8" stroke-linejoin="miter"/>
<path d="M375.12 132.00L377.82 136.60L372.42 136.60Z" fill="#e09a12" stroke="#8a5a08" stroke-width="0.8" stroke-linejoin="miter"/>
<path d="M382.97 129.90L385.67 134.50L380.27 134.50Z" fill="#e09a12" stroke="#8a5a08" stroke-width="0.8" stroke-linejoin="miter"/>
<path d="M390.81 127.50L393.51 132.10L388.11 132.10Z" fill="#e09a12" stroke="#8a5a08" stroke-width="0.8" stroke-linejoin="miter"/>
<path d="M398.66 124.20L401.36 128.80L395.96 128.80Z" fill="#e09a12" stroke="#8a5a08" stroke-width="0.8" stroke-linejoin="miter"/>
<path d="M406.51 120.70L409.21 125.30L403.81 125.30Z" fill="#e09a12" stroke="#8a5a08" stroke-width="0.8" stroke-linejoin="miter"/>
<path d="M414.35 116.10L417.05 120.70L411.65 120.70Z" fill="#e09a12" stroke="#8a5a08" stroke-width="0.8" stroke-linejoin="miter"/>
<path d="M422.20 109.80L424.90 114.40L419.50 114.40Z" fill="#e09a12" stroke="#8a5a08" stroke-width="0.8" stroke-linejoin="miter"/>
<path d="M430.05 104.40L432.75 109.00L427.35 109.00Z" fill="#e09a12" stroke="#8a5a08" stroke-width="0.8" stroke-linejoin="miter"/>
<path d="M437.89 99.20L440.59 103.80L435.19 103.80Z" fill="#e09a12" stroke="#8a5a08" stroke-width="0.8" stroke-linejoin="miter"/>
<path d="M445.74 94.30L448.44 98.90L443.04 98.90Z" fill="#e09a12" stroke="#8a5a08" stroke-width="0.8" stroke-linejoin="miter"/>
<path d="M453.59 89.90L456.29 94.50L450.89 94.50Z" fill="#e09a12" stroke="#8a5a08" stroke-width="0.8" stroke-linejoin="miter"/>
<path d="M461.43 85.90L464.13 90.50L458.73 90.50Z" fill="#e09a12" stroke="#8a5a08" stroke-width="0.8" stroke-linejoin="miter"/>
<path d="M469.28 82.20L471.98 86.80L466.58 86.80Z" fill="#e09a12" stroke="#8a5a08" stroke-width="0.8" stroke-linejoin="miter"/>
<path d="M477.13 80.70L479.83 85.30L474.43 85.30Z" fill="#e09a12" stroke="#8a5a08" stroke-width="0.8" stroke-linejoin="miter"/>
<path d="M484.97 77.50L487.67 82.10L482.27 82.10Z" fill="#e09a12" stroke="#8a5a08" stroke-width="0.8" stroke-linejoin="miter"/>
<path d="M492.82 74.90L495.52 79.50L490.12 79.50Z" fill="#e09a12" stroke="#8a5a08" stroke-width="0.8" stroke-linejoin="miter"/>
<path d="M500.67 72.10L503.37 76.70L497.97 76.70Z" fill="#e09a12" stroke="#8a5a08" stroke-width="0.8" stroke-linejoin="miter"/>
<path d="M508.51 69.20L511.21 73.80L505.81 73.80Z" fill="#e09a12" stroke="#8a5a08" stroke-width="0.8" stroke-linejoin="miter"/>
<path d="M516.36 65.90L519.06 70.50L513.66 70.50Z" fill="#e09a12" stroke="#8a5a08" stroke-width="0.8" stroke-linejoin="miter"/>
<path d="M524.21 62.90L526.91 67.50L521.51 67.50Z" fill="#e09a12" stroke="#8a5a08" stroke-width="0.8" stroke-linejoin="miter"/>
<path d="M532.05 60.50L534.75 65.10L529.35 65.10Z" fill="#e09a12" stroke="#8a5a08" stroke-width="0.8" stroke-linejoin="miter"/>
<path d="M539.90 57.50L542.60 62.10L537.20 62.10Z" fill="#e09a12" stroke="#8a5a08" stroke-width="0.8" stroke-linejoin="miter"/>
<path d="M304.50 165.00 L312.35 163.40 L320.19 161.80 L328.04 159.40 L335.89 156.90 L343.73 154.10 L351.58 150.70 L359.43 147.50 L367.27 145.20 L375.12 143.10 L382.97 140.60 L390.81 137.80 L398.66 133.60 L406.51 128.60 L414.35 122.50 L422.20 117.00 L430.05 110.90 L437.89 105.70 L445.74 99.70 L453.59 95.20 L461.43 91.20 L469.28 87.60 L477.13 83.90 L484.97 80.20 L492.82 77.70 L500.67 74.60 L508.51 71.80 L516.36 68.40 L524.21 65.20 L532.05 61.90 L539.90 58.70" fill="none" stroke="#4d4d4d" stroke-width="0.8"/>
<rect x="301.95" y="162.45" width="5.10" height="5.10" fill="#2a962a" stroke="#143c14" stroke-width="0.8"/>
<rect x="309.80" y="160.85" width="5.10" height="5.10" fill="#2a962a" stroke="#143c14" stroke-width="0.8"/>
<rect x="317.64" y="159.25" width="5.10" height="5.10" fill="#2a962a" stroke="#143c14" stroke-width="0.8"/>
<rect x="325.49" y="156.85" width="5.10" height="5.10" fill="#2a962a" stroke="#143c14" stroke-width="0.8"/>
<rect x="333.34" y="154.35" width="5.10" height="5.10" fill="#2a962a" stroke="#143c14" stroke-width="0.8"/>
<rect x="341.18" y="151.55" width="5.10" height="5.10" fill="#2a962a" stroke="#143c14" stroke-width="0.8"/>
<rect x="349.03" y="148.15" width="5.10" height="5.10" fill="#2a962a" stroke="#143c14" stroke-width="0.8"/>
<rect x="356.88" y="144.95" width="5.10" height="5.10" fill="#2a962a" stroke="#143c14" stroke-width="0.8"/>
<rect x="364.72" y="142.65" width="5.10" height="5.10" fill="#2a962a" stroke="#143c14" stroke-width="0.8"/>
<rect x="372.57" y="140.55" width="5.10" height="5.10" fill="#2a962a" stroke="#143c14" stroke-width="0.8"/>
<rect x="380.42" y="138.05" width="5.10" height="5.10" fill="#2a962a" stroke="#143c14" stroke-width="0.8"/>
<rect x="388.26" y="135.25" width="5.10" height="5.10" fill="#2a962a" stroke="#143c14" stroke-width="0.8"/>
<rect x="396.11" y="131.05" width="5.10" height="5.10" fill="#2a962a" stroke="#143c14" stroke-width="0.8"/>
<rect x="403.96" y="126.05" width="5.10" height="5.10" fill="#2a962a" stroke="#143c14" stroke-width="0.8"/>
<rect x="411.80" y="119.95" width="5.10" height="5.10" fill="#2a962a" stroke="#143c14" stroke-width="0.8"/>
<rect x="419.65" y="114.45" width="5.10" height="5.10" fill="#2a962a" stroke="#143c14" stroke-width="0.8"/>
<rect x="427.50" y="108.35" width="5.10" height="5.10" fill="#2a962a" stroke="#143c14" stroke-width="0.8"/>
<rect x="435.34" y="103.15" width="5.10" height="5.10" fill="#2a962a" stroke="#143c14" stroke-width="0.8"/>
<rect x="443.19" y="97.15" width="5.10" height="5.10" fill="#2a962a" stroke="#143c14" stroke-width="0.8"/>
<rect x="451.04" y="92.65" width="5.10" height="5.10" fill="#2a962a" stroke="#143c14" stroke-width="0.8"/>
<rect x="458.88" y="88.65" width="5.10" height="5.10" fill="#2a962a" stroke="#143c14" stroke-width="0.8"/>
<rect x="466.73" y="85.05" width="5.10" height="5.10" fill="#2a962a" stroke="#143c14" stroke-width="0.8"/>
<rect x="474.58" y="81.35" width="5.10" height="5.10" fill="#2a962a" stroke="#143c14" stroke-width="0.8"/>
<rect x="482.42" y="77.65" width="5.10" height="5.10" fill="#2a962a" stroke="#143c14" stroke-width="0.8"/>
<rect x="490.27" y="75.15" width="5.10" height="5.10" fill="#2a962a" stroke="#143c14" stroke-width="0.8"/>
<rect x="498.12" y="72.05" width="5.10" height="5.10" fill="#2a962a" stroke="#143c14" stroke-width="0.8"/>
<rect x="505.96" y="69.25" width="5.10" height="5.10" fill="#2a962a" stroke="#143c14" stroke-width="0.8"/>
<rect x="513.81" y="65.85" width="5.10" height="5.10" fill="#2a962a" stroke="#143c14" stroke-width="0.8"/>
<rect x="521.66" y="62.65" width="5.10" height="5.10" fill="#2a962a" stroke="#143c14" stroke-width="0.8"/>
<rect x="529.50" y="59.35" width="5.10" height="5.10" fill="#2a962a" stroke="#143c14" stroke-width="0.8"/>
<rect x="537.35" y="56.15" width="5.10" height="5.10" fill="#2a962a" stroke="#143c14" stroke-width="0.8"/>
<text x="312.0" y="28.4" class="lab">b</text>
<line x1="435.30" y1="135.50" x2="446.50" y2="135.50" stroke="#4d4d4d" stroke-width="0.8"/>
<path d="M440.90 133.54L443.19 137.46L438.60 137.46Z" fill="none" stroke="#eeb03a" stroke-width="0.8" stroke-linejoin="miter"/>
<text transform="matrix(1 0 0 0.91 447.50 138.20)" class="lg">SLT</text>
<line x1="435.30" y1="149.30" x2="446.50" y2="149.30" stroke="#4d4d4d" stroke-width="0.8"/>
<rect x="438.73" y="147.13" width="4.33" height="4.33" fill="none" stroke="#72b272" stroke-width="0.8"/>
<text transform="matrix(1 0 0 0.91 447.50 152.00)" class="lg">CLY</text>
<line x1="435.30" y1="162.50" x2="446.50" y2="162.50" stroke="#4d4d4d" stroke-width="0.8"/>
<path d="M440.90 160.54L443.19 164.46L438.60 164.46Z" fill="#e09a12" stroke="#8a5a08" stroke-width="0.8" stroke-linejoin="miter"/>
<text transform="matrix(1 0 0 0.91 447.50 165.20)" class="lg">SLT - Thermal Treatment</text>
<line x1="435.30" y1="177.30" x2="446.50" y2="177.30" stroke="#4d4d4d" stroke-width="0.8"/>
<rect x="438.73" y="175.13" width="4.33" height="4.33" fill="#2a962a" stroke="#143c14" stroke-width="0.8"/>
<text transform="matrix(1 0 0 0.91 447.50 180.00)" class="lg">CLY - Thermal Treatment</text>
<rect x="34.00" y="220.50" width="238.50" height="176.00" fill="none" stroke="#8a8a8a" stroke-width="1"/>
<line x1="34.00" y1="394.00" x2="34.00" y2="399.50" stroke="#8a8a8a" stroke-width="0.9"/>
<line x1="41.95" y1="396.50" x2="41.95" y2="398.50" stroke="#555" stroke-width="0.9"/>
<line x1="49.90" y1="396.50" x2="49.90" y2="398.50" stroke="#555" stroke-width="0.9"/>
<line x1="57.85" y1="396.50" x2="57.85" y2="398.50" stroke="#555" stroke-width="0.9"/>
<line x1="65.80" y1="396.50" x2="65.80" y2="398.50" stroke="#555" stroke-width="0.9"/>
<line x1="73.75" y1="394.00" x2="73.75" y2="399.50" stroke="#8a8a8a" stroke-width="0.9"/>
<line x1="81.70" y1="396.50" x2="81.70" y2="398.50" stroke="#555" stroke-width="0.9"/>
<line x1="89.65" y1="396.50" x2="89.65" y2="398.50" stroke="#555" stroke-width="0.9"/>
<line x1="97.60" y1="396.50" x2="97.60" y2="398.50" stroke="#555" stroke-width="0.9"/>
<line x1="105.55" y1="396.50" x2="105.55" y2="398.50" stroke="#555" stroke-width="0.9"/>
<line x1="113.50" y1="394.00" x2="113.50" y2="399.50" stroke="#8a8a8a" stroke-width="0.9"/>
<line x1="121.45" y1="396.50" x2="121.45" y2="398.50" stroke="#555" stroke-width="0.9"/>
<line x1="129.40" y1="396.50" x2="129.40" y2="398.50" stroke="#555" stroke-width="0.9"/>
<line x1="137.35" y1="396.50" x2="137.35" y2="398.50" stroke="#555" stroke-width="0.9"/>
<line x1="145.30" y1="396.50" x2="145.30" y2="398.50" stroke="#555" stroke-width="0.9"/>
<line x1="153.25" y1="394.00" x2="153.25" y2="399.50" stroke="#8a8a8a" stroke-width="0.9"/>
<line x1="161.20" y1="396.50" x2="161.20" y2="398.50" stroke="#555" stroke-width="0.9"/>
<line x1="169.15" y1="396.50" x2="169.15" y2="398.50" stroke="#555" stroke-width="0.9"/>
<line x1="177.10" y1="396.50" x2="177.10" y2="398.50" stroke="#555" stroke-width="0.9"/>
<line x1="185.05" y1="396.50" x2="185.05" y2="398.50" stroke="#555" stroke-width="0.9"/>
<line x1="193.00" y1="394.00" x2="193.00" y2="399.50" stroke="#8a8a8a" stroke-width="0.9"/>
<line x1="200.95" y1="396.50" x2="200.95" y2="398.50" stroke="#555" stroke-width="0.9"/>
<line x1="208.90" y1="396.50" x2="208.90" y2="398.50" stroke="#555" stroke-width="0.9"/>
<line x1="216.85" y1="396.50" x2="216.85" y2="398.50" stroke="#555" stroke-width="0.9"/>
<line x1="224.80" y1="396.50" x2="224.80" y2="398.50" stroke="#555" stroke-width="0.9"/>
<line x1="232.75" y1="394.00" x2="232.75" y2="399.50" stroke="#8a8a8a" stroke-width="0.9"/>
<line x1="240.70" y1="396.50" x2="240.70" y2="398.50" stroke="#555" stroke-width="0.9"/>
<line x1="248.65" y1="396.50" x2="248.65" y2="398.50" stroke="#555" stroke-width="0.9"/>
<line x1="256.60" y1="396.50" x2="256.60" y2="398.50" stroke="#555" stroke-width="0.9"/>
<line x1="264.55" y1="396.50" x2="264.55" y2="398.50" stroke="#555" stroke-width="0.9"/>
<line x1="272.50" y1="394.00" x2="272.50" y2="399.50" stroke="#8a8a8a" stroke-width="0.9"/>
<line x1="31.80" y1="220.50" x2="34.00" y2="220.50" stroke="#555" stroke-width="0.9"/>
<line x1="31.80" y1="238.10" x2="34.00" y2="238.10" stroke="#555" stroke-width="0.9"/>
<line x1="31.80" y1="255.70" x2="34.00" y2="255.70" stroke="#555" stroke-width="0.9"/>
<line x1="31.80" y1="273.30" x2="34.00" y2="273.30" stroke="#555" stroke-width="0.9"/>
<line x1="31.80" y1="290.90" x2="34.00" y2="290.90" stroke="#555" stroke-width="0.9"/>
<line x1="31.80" y1="308.50" x2="34.00" y2="308.50" stroke="#555" stroke-width="0.9"/>
<line x1="31.80" y1="326.10" x2="34.00" y2="326.10" stroke="#555" stroke-width="0.9"/>
<line x1="31.80" y1="343.70" x2="34.00" y2="343.70" stroke="#555" stroke-width="0.9"/>
<line x1="31.80" y1="361.30" x2="34.00" y2="361.30" stroke="#555" stroke-width="0.9"/>
<line x1="31.80" y1="378.90" x2="34.00" y2="378.90" stroke="#555" stroke-width="0.9"/>
<line x1="31.80" y1="396.50" x2="34.00" y2="396.50" stroke="#555" stroke-width="0.9"/>
<text transform="matrix(1 0 0 0.91 25.40 223.80)" class="t" text-anchor="end">2.5</text>
<text transform="matrix(1 0 0 0.91 25.40 259.00)" class="t" text-anchor="end">2</text>
<text transform="matrix(1 0 0 0.91 25.40 294.20)" class="t" text-anchor="end">1.5</text>
<text transform="matrix(1 0 0 0.91 25.40 329.40)" class="t" text-anchor="end">1</text>
<text transform="matrix(1 0 0 0.91 25.40 364.60)" class="t" text-anchor="end">0.5</text>
<text transform="matrix(1 0 0 0.91 25.40 399.80)" class="t" text-anchor="end">0</text>
<text transform="matrix(1 0 0 0.91 34.00 410.20)" class="t" text-anchor="middle">400</text>
<text transform="matrix(1 0 0 0.91 73.75 410.20)" class="t" text-anchor="middle">450</text>
<text transform="matrix(1 0 0 0.91 113.50 410.20)" class="t" text-anchor="middle">500</text>
<text transform="matrix(1 0 0 0.91 153.25 410.20)" class="t" text-anchor="middle">550</text>
<text transform="matrix(1 0 0 0.91 193.00 410.20)" class="t" text-anchor="middle">600</text>
<text transform="matrix(1 0 0 0.91 232.75 410.20)" class="t" text-anchor="middle">650</text>
<text transform="matrix(1 0 0 0.91 272.50 410.20)" class="t" text-anchor="middle">700</text>
<line x1="129.40" y1="220.50" x2="129.40" y2="396.50" stroke="#cfcfcf" stroke-width="1"/>
<line x1="129.40" y1="221.00" x2="129.40" y2="396.50" stroke="#4a4a4a" stroke-width="1" stroke-dasharray="1.2 1.2"/>
<path d="M34.00 347.30 L41.95 324.60 L49.90 305.30 L57.85 317.00 L65.80 346.80 L73.75 366.30 L81.70 357.50 L89.65 345.90 L97.60 321.80 L105.55 309.40 L113.50 297.10 L121.45 317.90 L129.40 301.70 L137.35 323.30 L145.30 335.00 L153.25 346.70 L161.20 358.40 L169.15 365.30 L177.10 370.80 L185.05 375.40 L193.00 377.40 L200.95 375.40 L208.90 377.40 L216.85 378.00 L224.80 382.90 L232.75 375.10 L240.70 376.60 L248.65 379.20 L256.60 389.10 L264.55 382.10" fill="none" stroke="#4d4d4d" stroke-width="0.8"/>
<circle cx="34.00" cy="347.30" r="2.45" fill="none" stroke="#5b8fd0" stroke-width="0.8"/>
<circle cx="41.95" cy="324.60" r="2.45" fill="none" stroke="#5b8fd0" stroke-width="0.8"/>
<circle cx="49.90" cy="305.30" r="2.45" fill="none" stroke="#5b8fd0" stroke-width="0.8"/>
<circle cx="57.85" cy="317.00" r="2.45" fill="none" stroke="#5b8fd0" stroke-width="0.8"/>
<circle cx="65.80" cy="346.80" r="2.45" fill="none" stroke="#5b8fd0" stroke-width="0.8"/>
<circle cx="73.75" cy="366.30" r="2.45" fill="none" stroke="#5b8fd0" stroke-width="0.8"/>
<circle cx="81.70" cy="357.50" r="2.45" fill="none" stroke="#5b8fd0" stroke-width="0.8"/>
<circle cx="89.65" cy="345.90" r="2.45" fill="none" stroke="#5b8fd0" stroke-width="0.8"/>
<circle cx="97.60" cy="321.80" r="2.45" fill="none" stroke="#5b8fd0" stroke-width="0.8"/>
<circle cx="105.55" cy="309.40" r="2.45" fill="none" stroke="#5b8fd0" stroke-width="0.8"/>
<circle cx="113.50" cy="297.10" r="2.45" fill="none" stroke="#5b8fd0" stroke-width="0.8"/>
<circle cx="121.45" cy="317.90" r="2.45" fill="none" stroke="#5b8fd0" stroke-width="0.8"/>
<circle cx="129.40" cy="301.70" r="2.45" fill="none" stroke="#5b8fd0" stroke-width="0.8"/>
<circle cx="137.35" cy="323.30" r="2.45" fill="none" stroke="#5b8fd0" stroke-width="0.8"/>
<circle cx="145.30" cy="335.00" r="2.45" fill="none" stroke="#5b8fd0" stroke-width="0.8"/>
<circle cx="153.25" cy="346.70" r="2.45" fill="none" stroke="#5b8fd0" stroke-width="0.8"/>
<circle cx="161.20" cy="358.40" r="2.45" fill="none" stroke="#5b8fd0" stroke-width="0.8"/>
<circle cx="169.15" cy="365.30" r="2.45" fill="none" stroke="#5b8fd0" stroke-width="0.8"/>
<circle cx="177.10" cy="370.80" r="2.45" fill="none" stroke="#5b8fd0" stroke-width="0.8"/>
<circle cx="185.05" cy="375.40" r="2.45" fill="none" stroke="#5b8fd0" stroke-width="0.8"/>
<circle cx="193.00" cy="377.40" r="2.45" fill="none" stroke="#5b8fd0" stroke-width="0.8"/>
<circle cx="200.95" cy="375.40" r="2.45" fill="none" stroke="#5b8fd0" stroke-width="0.8"/>
<circle cx="208.90" cy="377.40" r="2.45" fill="none" stroke="#5b8fd0" stroke-width="0.8"/>
<circle cx="216.85" cy="378.00" r="2.45" fill="none" stroke="#5b8fd0" stroke-width="0.8"/>
<circle cx="224.80" cy="382.90" r="2.45" fill="none" stroke="#5b8fd0" stroke-width="0.8"/>
<circle cx="232.75" cy="375.10" r="2.45" fill="none" stroke="#5b8fd0" stroke-width="0.8"/>
<circle cx="240.70" cy="376.60" r="2.45" fill="none" stroke="#5b8fd0" stroke-width="0.8"/>
<circle cx="248.65" cy="379.20" r="2.45" fill="none" stroke="#5b8fd0" stroke-width="0.8"/>
<circle cx="256.60" cy="389.10" r="2.45" fill="none" stroke="#5b8fd0" stroke-width="0.8"/>
<circle cx="264.55" cy="382.10" r="2.45" fill="none" stroke="#5b8fd0" stroke-width="0.8"/>
<path d="M34.00 314.30 L41.95 317.00 L49.90 294.20 L57.85 278.70 L65.80 303.40 L73.75 340.10 L81.70 357.40 L89.65 343.00 L97.60 336.60 L105.55 322.80 L113.50 313.90 L121.45 313.00 L129.40 320.00 L137.35 327.00 L145.30 340.60 L153.25 352.10 L161.20 365.40 L169.15 374.70 L177.10 382.10 L185.05 388.50 L193.00 391.40 L200.95 396.50 L208.90 390.90 L216.85 396.00 L224.80 392.80 L232.75 396.10 L240.70 390.30 L248.65 389.10 L256.60 387.40 L264.55 389.10" fill="none" stroke="#4d4d4d" stroke-width="0.8"/>
<path d="M34.00 311.60L36.70 314.30L34.00 317.00L31.30 314.30Z" fill="none" stroke="#a35ad6" stroke-width="0.95"/>
<path d="M41.95 314.30L44.65 317.00L41.95 319.70L39.25 317.00Z" fill="none" stroke="#a35ad6" stroke-width="0.95"/>
<path d="M49.90 291.50L52.60 294.20L49.90 296.90L47.20 294.20Z" fill="none" stroke="#a35ad6" stroke-width="0.95"/>
<path d="M57.85 276.00L60.55 278.70L57.85 281.40L55.15 278.70Z" fill="none" stroke="#a35ad6" stroke-width="0.95"/>
<path d="M65.80 300.70L68.50 303.40L65.80 306.10L63.10 303.40Z" fill="none" stroke="#a35ad6" stroke-width="0.95"/>
<path d="M73.75 337.40L76.45 340.10L73.75 342.80L71.05 340.10Z" fill="none" stroke="#a35ad6" stroke-width="0.95"/>
<path d="M81.70 354.70L84.40 357.40L81.70 360.10L79.00 357.40Z" fill="none" stroke="#a35ad6" stroke-width="0.95"/>
<path d="M89.65 340.30L92.35 343.00L89.65 345.70L86.95 343.00Z" fill="none" stroke="#a35ad6" stroke-width="0.95"/>
<path d="M97.60 333.90L100.30 336.60L97.60 339.30L94.90 336.60Z" fill="none" stroke="#a35ad6" stroke-width="0.95"/>
<path d="M105.55 320.10L108.25 322.80L105.55 325.50L102.85 322.80Z" fill="none" stroke="#a35ad6" stroke-width="0.95"/>
<path d="M113.50 311.20L116.20 313.90L113.50 316.60L110.80 313.90Z" fill="none" stroke="#a35ad6" stroke-width="0.95"/>
<path d="M121.45 310.30L124.15 313.00L121.45 315.70L118.75 313.00Z" fill="none" stroke="#a35ad6" stroke-width="0.95"/>
<path d="M129.40 317.30L132.10 320.00L129.40 322.70L126.70 320.00Z" fill="none" stroke="#a35ad6" stroke-width="0.95"/>
<path d="M137.35 324.30L140.05 327.00L137.35 329.70L134.65 327.00Z" fill="none" stroke="#a35ad6" stroke-width="0.95"/>
<path d="M145.30 337.90L148.00 340.60L145.30 343.30L142.60 340.60Z" fill="none" stroke="#a35ad6" stroke-width="0.95"/>
<path d="M153.25 349.40L155.95 352.10L153.25 354.80L150.55 352.10Z" fill="none" stroke="#a35ad6" stroke-width="0.95"/>
<path d="M161.20 362.70L163.90 365.40L161.20 368.10L158.50 365.40Z" fill="none" stroke="#a35ad6" stroke-width="0.95"/>
<path d="M169.15 372.00L171.85 374.70L169.15 377.40L166.45 374.70Z" fill="none" stroke="#a35ad6" stroke-width="0.95"/>
<path d="M177.10 379.40L179.80 382.10L177.10 384.80L174.40 382.10Z" fill="none" stroke="#a35ad6" stroke-width="0.95"/>
<path d="M185.05 385.80L187.75 388.50L185.05 391.20L182.35 388.50Z" fill="none" stroke="#a35ad6" stroke-width="0.95"/>
<path d="M193.00 388.70L195.70 391.40L193.00 394.10L190.30 391.40Z" fill="none" stroke="#a35ad6" stroke-width="0.95"/>
<path d="M208.90 388.20L211.60 390.90L208.90 393.60L206.20 390.90Z" fill="none" stroke="#a35ad6" stroke-width="0.95"/>
<path d="M216.85 393.30L219.55 396.00L216.85 398.70L214.15 396.00Z" fill="none" stroke="#a35ad6" stroke-width="0.95"/>
<path d="M224.80 390.10L227.50 392.80L224.80 395.50L222.10 392.80Z" fill="none" stroke="#a35ad6" stroke-width="0.95"/>
<path d="M232.75 393.40L235.45 396.10L232.75 398.80L230.05 396.10Z" fill="none" stroke="#a35ad6" stroke-width="0.95"/>
<path d="M240.70 387.60L243.40 390.30L240.70 393.00L238.00 390.30Z" fill="none" stroke="#a35ad6" stroke-width="0.95"/>
<path d="M248.65 386.40L251.35 389.10L248.65 391.80L245.95 389.10Z" fill="none" stroke="#a35ad6" stroke-width="0.95"/>
<path d="M256.60 384.70L259.30 387.40L256.60 390.10L253.90 387.40Z" fill="none" stroke="#a35ad6" stroke-width="0.95"/>
<path d="M264.55 386.40L267.25 389.10L264.55 391.80L261.85 389.10Z" fill="none" stroke="#a35ad6" stroke-width="0.95"/>
<path d="M34.00 373.00 L41.95 371.60 L49.90 362.10 L57.85 353.40 L65.80 352.90 L73.75 357.50 L81.70 361.00 L89.65 367.20 L97.60 362.00 L105.55 353.40 L113.50 342.40 L121.45 308.00 L129.40 321.00 L137.35 285.20 L145.30 259.20 L153.25 244.70 L161.20 244.30 L169.15 255.50 L177.10 278.80 L185.05 295.00 L193.00 316.00 L200.95 320.60 L208.90 325.20 L216.85 329.10 L224.80 329.20 L232.75 325.20 L240.70 322.70 L248.65 326.60 L256.60 327.30 L264.55 327.30" fill="none" stroke="#4d4d4d" stroke-width="0.8"/>
<circle cx="34.00" cy="373.00" r="2.45" fill="#14529f" stroke="#0f3f7c" stroke-width="0.8"/>
<circle cx="41.95" cy="371.60" r="2.45" fill="#14529f" stroke="#0f3f7c" stroke-width="0.8"/>
<circle cx="49.90" cy="362.10" r="2.45" fill="#14529f" stroke="#0f3f7c" stroke-width="0.8"/>
<circle cx="57.85" cy="353.40" r="2.45" fill="#14529f" stroke="#0f3f7c" stroke-width="0.8"/>
<circle cx="65.80" cy="352.90" r="2.45" fill="#14529f" stroke="#0f3f7c" stroke-width="0.8"/>
<circle cx="73.75" cy="357.50" r="2.45" fill="#14529f" stroke="#0f3f7c" stroke-width="0.8"/>
<circle cx="81.70" cy="361.00" r="2.45" fill="#14529f" stroke="#0f3f7c" stroke-width="0.8"/>
<circle cx="89.65" cy="367.20" r="2.45" fill="#14529f" stroke="#0f3f7c" stroke-width="0.8"/>
<circle cx="97.60" cy="362.00" r="2.45" fill="#14529f" stroke="#0f3f7c" stroke-width="0.8"/>
<circle cx="105.55" cy="353.40" r="2.45" fill="#14529f" stroke="#0f3f7c" stroke-width="0.8"/>
<circle cx="113.50" cy="342.40" r="2.45" fill="#14529f" stroke="#0f3f7c" stroke-width="0.8"/>
<circle cx="121.45" cy="308.00" r="2.45" fill="#14529f" stroke="#0f3f7c" stroke-width="0.8"/>
<circle cx="129.40" cy="321.00" r="2.45" fill="#14529f" stroke="#0f3f7c" stroke-width="0.8"/>
<circle cx="137.35" cy="285.20" r="2.45" fill="#14529f" stroke="#0f3f7c" stroke-width="0.8"/>
<circle cx="145.30" cy="259.20" r="2.45" fill="#14529f" stroke="#0f3f7c" stroke-width="0.8"/>
<circle cx="153.25" cy="244.70" r="2.45" fill="#14529f" stroke="#0f3f7c" stroke-width="0.8"/>
<circle cx="161.20" cy="244.30" r="2.45" fill="#14529f" stroke="#0f3f7c" stroke-width="0.8"/>
<circle cx="169.15" cy="255.50" r="2.45" fill="#14529f" stroke="#0f3f7c" stroke-width="0.8"/>
<circle cx="177.10" cy="278.80" r="2.45" fill="#14529f" stroke="#0f3f7c" stroke-width="0.8"/>
<circle cx="185.05" cy="295.00" r="2.45" fill="#14529f" stroke="#0f3f7c" stroke-width="0.8"/>
<circle cx="193.00" cy="316.00" r="2.45" fill="#14529f" stroke="#0f3f7c" stroke-width="0.8"/>
<circle cx="200.95" cy="320.60" r="2.45" fill="#14529f" stroke="#0f3f7c" stroke-width="0.8"/>
<circle cx="208.90" cy="325.20" r="2.45" fill="#14529f" stroke="#0f3f7c" stroke-width="0.8"/>
<circle cx="216.85" cy="329.10" r="2.45" fill="#14529f" stroke="#0f3f7c" stroke-width="0.8"/>
<circle cx="224.80" cy="329.20" r="2.45" fill="#14529f" stroke="#0f3f7c" stroke-width="0.8"/>
<circle cx="232.75" cy="325.20" r="2.45" fill="#14529f" stroke="#0f3f7c" stroke-width="0.8"/>
<circle cx="240.70" cy="322.70" r="2.45" fill="#14529f" stroke="#0f3f7c" stroke-width="0.8"/>
<circle cx="248.65" cy="326.60" r="2.45" fill="#14529f" stroke="#0f3f7c" stroke-width="0.8"/>
<circle cx="256.60" cy="327.30" r="2.45" fill="#14529f" stroke="#0f3f7c" stroke-width="0.8"/>
<circle cx="264.55" cy="327.30" r="2.45" fill="#14529f" stroke="#0f3f7c" stroke-width="0.8"/>
<path d="M34.00 364.60 L41.95 369.80 L49.90 357.60 L57.85 345.00 L65.80 335.50 L73.75 332.50 L81.70 340.80 L89.65 342.30 L97.60 353.70 L105.55 352.50 L113.50 343.60 L121.45 324.80 L129.40 313.60 L137.35 292.60 L145.30 273.20 L153.25 257.10 L161.20 250.70 L169.15 255.90 L177.10 269.00 L185.05 287.70 L193.00 304.80 L200.95 325.30 L208.90 325.20 L216.85 332.90 L224.80 336.70 L232.75 346.30 L240.70 330.80 L248.65 335.70 L256.60 340.70 L264.55 335.00" fill="none" stroke="#4d4d4d" stroke-width="0.8"/>
<path d="M34.00 361.90L36.70 364.60L34.00 367.30L31.30 364.60Z" fill="#7126a8" stroke="#5c1f88" stroke-width="0.8"/>
<path d="M41.95 367.10L44.65 369.80L41.95 372.50L39.25 369.80Z" fill="#7126a8" stroke="#5c1f88" stroke-width="0.8"/>
<path d="M49.90 354.90L52.60 357.60L49.90 360.30L47.20 357.60Z" fill="#7126a8" stroke="#5c1f88" stroke-width="0.8"/>
<path d="M57.85 342.30L60.55 345.00L57.85 347.70L55.15 345.00Z" fill="#7126a8" stroke="#5c1f88" stroke-width="0.8"/>
<path d="M65.80 332.80L68.50 335.50L65.80 338.20L63.10 335.50Z" fill="#7126a8" stroke="#5c1f88" stroke-width="0.8"/>
<path d="M73.75 329.80L76.45 332.50L73.75 335.20L71.05 332.50Z" fill="#7126a8" stroke="#5c1f88" stroke-width="0.8"/>
<path d="M81.70 338.10L84.40 340.80L81.70 343.50L79.00 340.80Z" fill="#7126a8" stroke="#5c1f88" stroke-width="0.8"/>
<path d="M89.65 339.60L92.35 342.30L89.65 345.00L86.95 342.30Z" fill="#7126a8" stroke="#5c1f88" stroke-width="0.8"/>
<path d="M97.60 351.00L100.30 353.70L97.60 356.40L94.90 353.70Z" fill="#7126a8" stroke="#5c1f88" stroke-width="0.8"/>
<path d="M105.55 349.80L108.25 352.50L105.55 355.20L102.85 352.50Z" fill="#7126a8" stroke="#5c1f88" stroke-width="0.8"/>
<path d="M113.50 340.90L116.20 343.60L113.50 346.30L110.80 343.60Z" fill="#7126a8" stroke="#5c1f88" stroke-width="0.8"/>
<path d="M121.45 322.10L124.15 324.80L121.45 327.50L118.75 324.80Z" fill="#7126a8" stroke="#5c1f88" stroke-width="0.8"/>
<path d="M129.40 310.90L132.10 313.60L129.40 316.30L126.70 313.60Z" fill="#7126a8" stroke="#5c1f88" stroke-width="0.8"/>
<path d="M137.35 289.90L140.05 292.60L137.35 295.30L134.65 292.60Z" fill="#7126a8" stroke="#5c1f88" stroke-width="0.8"/>
<path d="M145.30 270.50L148.00 273.20L145.30 275.90L142.60 273.20Z" fill="#7126a8" stroke="#5c1f88" stroke-width="0.8"/>
<path d="M153.25 254.40L155.95 257.10L153.25 259.80L150.55 257.10Z" fill="#7126a8" stroke="#5c1f88" stroke-width="0.8"/>
<path d="M161.20 248.00L163.90 250.70L161.20 253.40L158.50 250.70Z" fill="#7126a8" stroke="#5c1f88" stroke-width="0.8"/>
<path d="M169.15 253.20L171.85 255.90L169.15 258.60L166.45 255.90Z" fill="#7126a8" stroke="#5c1f88" stroke-width="0.8"/>
<path d="M177.10 266.30L179.80 269.00L177.10 271.70L174.40 269.00Z" fill="#7126a8" stroke="#5c1f88" stroke-width="0.8"/>
<path d="M185.05 285.00L187.75 287.70L185.05 290.40L182.35 287.70Z" fill="#7126a8" stroke="#5c1f88" stroke-width="0.8"/>
<path d="M193.00 302.10L195.70 304.80L193.00 307.50L190.30 304.80Z" fill="#7126a8" stroke="#5c1f88" stroke-width="0.8"/>
<path d="M200.95 322.60L203.65 325.30L200.95 328.00L198.25 325.30Z" fill="#7126a8" stroke="#5c1f88" stroke-width="0.8"/>
<path d="M208.90 322.50L211.60 325.20L208.90 327.90L206.20 325.20Z" fill="#7126a8" stroke="#5c1f88" stroke-width="0.8"/>
<path d="M216.85 330.20L219.55 332.90L216.85 335.60L214.15 332.90Z" fill="#7126a8" stroke="#5c1f88" stroke-width="0.8"/>
<path d="M224.80 334.00L227.50 336.70L224.80 339.40L222.10 336.70Z" fill="#7126a8" stroke="#5c1f88" stroke-width="0.8"/>
<path d="M232.75 343.60L235.45 346.30L232.75 349.00L230.05 346.30Z" fill="#7126a8" stroke="#5c1f88" stroke-width="0.8"/>
<path d="M240.70 328.10L243.40 330.80L240.70 333.50L238.00 330.80Z" fill="#7126a8" stroke="#5c1f88" stroke-width="0.8"/>
<path d="M248.65 333.00L251.35 335.70L248.65 338.40L245.95 335.70Z" fill="#7126a8" stroke="#5c1f88" stroke-width="0.8"/>
<path d="M256.60 338.00L259.30 340.70L256.60 343.40L253.90 340.70Z" fill="#7126a8" stroke="#5c1f88" stroke-width="0.8"/>
<path d="M264.55 332.30L267.25 335.00L264.55 337.70L261.85 335.00Z" fill="#7126a8" stroke="#5c1f88" stroke-width="0.8"/>
<text x="42.6" y="240.0" class="lab">c</text>
<text transform="matrix(1 0 0 0.97 72.30 254.50)" class="tb">Goethite</text>
<line x1="74.70" y1="258.20" x2="65.18" y2="273.30" stroke="#111" stroke-width="1.3"/><path d="M63.10 276.60L63.32 272.13L67.04 274.47Z" fill="#111"/>
<line x1="100.30" y1="257.80" x2="109.81" y2="287.49" stroke="#111" stroke-width="1.3"/><path d="M111.00 291.20L107.72 288.16L111.91 286.81Z" fill="#111"/>
<text transform="matrix(1 0 0 0.97 192.00 254.80)" class="tb">Hematite</text>
<line x1="188.40" y1="250.60" x2="177.90" y2="250.60" stroke="#111" stroke-width="1.3"/><path d="M174.00 250.60L177.90 248.40L177.90 252.80Z" fill="#111"/>
<text class="tb" transform="translate(11.2 311.7) rotate(-90) scale(0.93 1)" text-anchor="middle">&#916;R</text>
<text transform="matrix(1 0 0 0.96 153.25 422.10)" class="tb" text-anchor="middle">Wavelength (nm)</text>
<rect x="304.50" y="220.50" width="236.40" height="176.00" fill="none" stroke="#8a8a8a" stroke-width="1"/>
<line x1="304.50" y1="394.00" x2="304.50" y2="399.50" stroke="#8a8a8a" stroke-width="0.9"/>
<line x1="312.38" y1="396.50" x2="312.38" y2="398.50" stroke="#555" stroke-width="0.9"/>
<line x1="320.26" y1="396.50" x2="320.26" y2="398.50" stroke="#555" stroke-width="0.9"/>
<line x1="328.14" y1="396.50" x2="328.14" y2="398.50" stroke="#555" stroke-width="0.9"/>
<line x1="336.02" y1="396.50" x2="336.02" y2="398.50" stroke="#555" stroke-width="0.9"/>
<line x1="343.90" y1="394.00" x2="343.90" y2="399.50" stroke="#8a8a8a" stroke-width="0.9"/>
<line x1="351.78" y1="396.50" x2="351.78" y2="398.50" stroke="#555" stroke-width="0.9"/>
<line x1="359.66" y1="396.50" x2="359.66" y2="398.50" stroke="#555" stroke-width="0.9"/>
<line x1="367.54" y1="396.50" x2="367.54" y2="398.50" stroke="#555" stroke-width="0.9"/>
<line x1="375.42" y1="396.50" x2="375.42" y2="398.50" stroke="#555" stroke-width="0.9"/>
<line x1="383.30" y1="394.00" x2="383.30" y2="399.50" stroke="#8a8a8a" stroke-width="0.9"/>
<line x1="391.18" y1="396.50" x2="391.18" y2="398.50" stroke="#555" stroke-width="0.9"/>
<line x1="399.06" y1="396.50" x2="399.06" y2="398.50" stroke="#555" stroke-width="0.9"/>
<line x1="406.94" y1="396.50" x2="406.94" y2="398.50" stroke="#555" stroke-width="0.9"/>
<line x1="414.82" y1="396.50" x2="414.82" y2="398.50" stroke="#555" stroke-width="0.9"/>
<line x1="422.70" y1="394.00" x2="422.70" y2="399.50" stroke="#8a8a8a" stroke-width="0.9"/>
<line x1="430.58" y1="396.50" x2="430.58" y2="398.50" stroke="#555" stroke-width="0.9"/>
<line x1="438.46" y1="396.50" x2="438.46" y2="398.50" stroke="#555" stroke-width="0.9"/>
<line x1="446.34" y1="396.50" x2="446.34" y2="398.50" stroke="#555" stroke-width="0.9"/>
<line x1="454.22" y1="396.50" x2="454.22" y2="398.50" stroke="#555" stroke-width="0.9"/>
<line x1="462.10" y1="394.00" x2="462.10" y2="399.50" stroke="#8a8a8a" stroke-width="0.9"/>
<line x1="469.98" y1="396.50" x2="469.98" y2="398.50" stroke="#555" stroke-width="0.9"/>
<line x1="477.86" y1="396.50" x2="477.86" y2="398.50" stroke="#555" stroke-width="0.9"/>
<line x1="485.74" y1="396.50" x2="485.74" y2="398.50" stroke="#555" stroke-width="0.9"/>
<line x1="493.62" y1="396.50" x2="493.62" y2="398.50" stroke="#555" stroke-width="0.9"/>
<line x1="501.50" y1="394.00" x2="501.50" y2="399.50" stroke="#8a8a8a" stroke-width="0.9"/>
<line x1="509.38" y1="396.50" x2="509.38" y2="398.50" stroke="#555" stroke-width="0.9"/>
<line x1="517.26" y1="396.50" x2="517.26" y2="398.50" stroke="#555" stroke-width="0.9"/>
<line x1="525.14" y1="396.50" x2="525.14" y2="398.50" stroke="#555" stroke-width="0.9"/>
<line x1="533.02" y1="396.50" x2="533.02" y2="398.50" stroke="#555" stroke-width="0.9"/>
<line x1="540.90" y1="394.00" x2="540.90" y2="399.50" stroke="#8a8a8a" stroke-width="0.9"/>
<line x1="302.30" y1="220.50" x2="304.50" y2="220.50" stroke="#555" stroke-width="0.9"/>
<line x1="302.30" y1="238.10" x2="304.50" y2="238.10" stroke="#555" stroke-width="0.9"/>
<line x1="302.30" y1="255.70" x2="304.50" y2="255.70" stroke="#555" stroke-width="0.9"/>
<line x1="302.30" y1="273.30" x2="304.50" y2="273.30" stroke="#555" stroke-width="0.9"/>
<line x1="302.30" y1="290.90" x2="304.50" y2="290.90" stroke="#555" stroke-width="0.9"/>
<line x1="302.30" y1="308.50" x2="304.50" y2="308.50" stroke="#555" stroke-width="0.9"/>
<line x1="302.30" y1="326.10" x2="304.50" y2="326.10" stroke="#555" stroke-width="0.9"/>
<line x1="302.30" y1="343.70" x2="304.50" y2="343.70" stroke="#555" stroke-width="0.9"/>
<line x1="302.30" y1="361.30" x2="304.50" y2="361.30" stroke="#555" stroke-width="0.9"/>
<line x1="302.30" y1="378.90" x2="304.50" y2="378.90" stroke="#555" stroke-width="0.9"/>
<line x1="302.30" y1="396.50" x2="304.50" y2="396.50" stroke="#555" stroke-width="0.9"/>
<text transform="matrix(1 0 0 0.91 295.90 223.80)" class="t" text-anchor="end">2.5</text>
<text transform="matrix(1 0 0 0.91 295.90 259.00)" class="t" text-anchor="end">2</text>
<text transform="matrix(1 0 0 0.91 295.90 294.20)" class="t" text-anchor="end">1.5</text>
<text transform="matrix(1 0 0 0.91 295.90 329.40)" class="t" text-anchor="end">1</text>
<text transform="matrix(1 0 0 0.91 295.90 364.60)" class="t" text-anchor="end">0.5</text>
<text transform="matrix(1 0 0 0.91 295.90 399.80)" class="t" text-anchor="end">0</text>
<text transform="matrix(1 0 0 0.91 304.50 410.20)" class="t" text-anchor="middle">400</text>
<text transform="matrix(1 0 0 0.91 343.90 410.20)" class="t" text-anchor="middle">450</text>
<text transform="matrix(1 0 0 0.91 383.30 410.20)" class="t" text-anchor="middle">500</text>
<text transform="matrix(1 0 0 0.91 422.70 410.20)" class="t" text-anchor="middle">550</text>
<text transform="matrix(1 0 0 0.91 462.10 410.20)" class="t" text-anchor="middle">600</text>
<text transform="matrix(1 0 0 0.91 501.50 410.20)" class="t" text-anchor="middle">650</text>
<text transform="matrix(1 0 0 0.91 540.90 410.20)" class="t" text-anchor="middle">700</text>
<line x1="399.06" y1="220.50" x2="399.06" y2="396.50" stroke="#cfcfcf" stroke-width="1"/>
<line x1="399.06" y1="221.00" x2="399.06" y2="396.50" stroke="#4a4a4a" stroke-width="1" stroke-dasharray="1.2 1.2"/>
<path d="M304.50 355.50 L312.38 357.20 L320.26 346.20 L328.14 345.50 L336.02 352.50 L343.90 361.30 L351.78 367.80 L359.66 363.00 L367.54 364.30 L375.42 363.60 L383.30 362.80 L391.18 366.30 L399.06 372.70 L406.94 375.60 L414.82 379.50 L422.70 383.70 L430.58 385.60 L438.46 389.70 L446.34 391.40 L454.22 393.90 L462.10 393.40 L469.98 396.50 L477.86 392.90 L485.74 394.90 L493.62 394.40 L509.38 388.70 L517.26 393.60 L525.14 390.20 L533.02 389.00" fill="none" stroke="#4d4d4d" stroke-width="0.8"/>
<path d="M304.50 353.20L307.20 357.80L301.80 357.80Z" fill="none" stroke="#eeb03a" stroke-width="0.8" stroke-linejoin="miter"/>
<path d="M312.38 354.90L315.08 359.50L309.68 359.50Z" fill="none" stroke="#eeb03a" stroke-width="0.8" stroke-linejoin="miter"/>
<path d="M320.26 343.90L322.96 348.50L317.56 348.50Z" fill="none" stroke="#eeb03a" stroke-width="0.8" stroke-linejoin="miter"/>
<path d="M328.14 343.20L330.84 347.80L325.44 347.80Z" fill="none" stroke="#eeb03a" stroke-width="0.8" stroke-linejoin="miter"/>
<path d="M336.02 350.20L338.72 354.80L333.32 354.80Z" fill="none" stroke="#eeb03a" stroke-width="0.8" stroke-linejoin="miter"/>
<path d="M343.90 359.00L346.60 363.60L341.20 363.60Z" fill="none" stroke="#eeb03a" stroke-width="0.8" stroke-linejoin="miter"/>
<path d="M351.78 365.50L354.48 370.10L349.08 370.10Z" fill="none" stroke="#eeb03a" stroke-width="0.8" stroke-linejoin="miter"/>
<path d="M359.66 360.70L362.36 365.30L356.96 365.30Z" fill="none" stroke="#eeb03a" stroke-width="0.8" stroke-linejoin="miter"/>
<path d="M367.54 362.00L370.24 366.60L364.84 366.60Z" fill="none" stroke="#eeb03a" stroke-width="0.8" stroke-linejoin="miter"/>
<path d="M375.42 361.30L378.12 365.90L372.72 365.90Z" fill="none" stroke="#eeb03a" stroke-width="0.8" stroke-linejoin="miter"/>
<path d="M383.30 360.50L386.00 365.10L380.60 365.10Z" fill="none" stroke="#eeb03a" stroke-width="0.8" stroke-linejoin="miter"/>
<path d="M391.18 364.00L393.88 368.60L388.48 368.60Z" fill="none" stroke="#eeb03a" stroke-width="0.8" stroke-linejoin="miter"/>
<path d="M399.06 370.40L401.76 375.00L396.36 375.00Z" fill="none" stroke="#eeb03a" stroke-width="0.8" stroke-linejoin="miter"/>
<path d="M406.94 373.30L409.64 377.90L404.24 377.90Z" fill="none" stroke="#eeb03a" stroke-width="0.8" stroke-linejoin="miter"/>
<path d="M414.82 377.20L417.52 381.80L412.12 381.80Z" fill="none" stroke="#eeb03a" stroke-width="0.8" stroke-linejoin="miter"/>
<path d="M422.70 381.40L425.40 386.00L420.00 386.00Z" fill="none" stroke="#eeb03a" stroke-width="0.8" stroke-linejoin="miter"/>
<path d="M430.58 383.30L433.28 387.90L427.88 387.90Z" fill="none" stroke="#eeb03a" stroke-width="0.8" stroke-linejoin="miter"/>
<path d="M438.46 387.40L441.16 392.00L435.76 392.00Z" fill="none" stroke="#eeb03a" stroke-width="0.8" stroke-linejoin="miter"/>
<path d="M446.34 389.10L449.04 393.70L443.64 393.70Z" fill="none" stroke="#eeb03a" stroke-width="0.8" stroke-linejoin="miter"/>
<path d="M454.22 391.60L456.92 396.20L451.52 396.20Z" fill="none" stroke="#eeb03a" stroke-width="0.8" stroke-linejoin="miter"/>
<path d="M462.10 391.10L464.80 395.70L459.40 395.70Z" fill="none" stroke="#eeb03a" stroke-width="0.8" stroke-linejoin="miter"/>
<path d="M469.98 394.30L472.68 398.90L467.28 398.90Z" fill="none" stroke="#eeb03a" stroke-width="0.8" stroke-linejoin="miter"/>
<path d="M477.86 390.60L480.56 395.20L475.16 395.20Z" fill="none" stroke="#eeb03a" stroke-width="0.8" stroke-linejoin="miter"/>
<path d="M485.74 392.60L488.44 397.20L483.04 397.20Z" fill="none" stroke="#eeb03a" stroke-width="0.8" stroke-linejoin="miter"/>
<path d="M493.62 392.10L496.32 396.70L490.92 396.70Z" fill="none" stroke="#eeb03a" stroke-width="0.8" stroke-linejoin="miter"/>
<path d="M509.38 386.40L512.08 391.00L506.68 391.00Z" fill="none" stroke="#eeb03a" stroke-width="0.8" stroke-linejoin="miter"/>
<path d="M517.26 391.30L519.96 395.90L514.56 395.90Z" fill="none" stroke="#eeb03a" stroke-width="0.8" stroke-linejoin="miter"/>
<path d="M525.14 387.90L527.84 392.50L522.44 392.50Z" fill="none" stroke="#eeb03a" stroke-width="0.8" stroke-linejoin="miter"/>
<path d="M533.02 386.70L535.72 391.30L530.32 391.30Z" fill="none" stroke="#eeb03a" stroke-width="0.8" stroke-linejoin="miter"/>
<path d="M304.50 343.50 L312.38 344.90 L320.26 335.50 L328.14 331.60 L336.02 337.50 L343.90 343.50 L351.78 353.00 L359.66 352.60 L367.54 354.30 L375.42 356.50 L383.30 355.10 L391.18 359.00 L399.06 363.50 L406.94 366.80 L414.82 375.50 L422.70 377.40 L430.58 380.30 L438.46 382.80 L446.34 386.30 L454.22 387.90 L462.10 388.30 L469.98 389.70 L477.86 385.10 L485.74 386.70 L493.62 387.50 L501.50 391.30 L509.38 383.60 L517.26 386.70 L525.14 382.80 L533.02 380.50" fill="none" stroke="#4d4d4d" stroke-width="0.8"/>
<rect x="301.95" y="340.95" width="5.10" height="5.10" fill="none" stroke="#72b272" stroke-width="0.8"/>
<rect x="309.83" y="342.35" width="5.10" height="5.10" fill="none" stroke="#72b272" stroke-width="0.8"/>
<rect x="317.71" y="332.95" width="5.10" height="5.10" fill="none" stroke="#72b272" stroke-width="0.8"/>
<rect x="325.59" y="329.05" width="5.10" height="5.10" fill="none" stroke="#72b272" stroke-width="0.8"/>
<rect x="333.47" y="334.95" width="5.10" height="5.10" fill="none" stroke="#72b272" stroke-width="0.8"/>
<rect x="341.35" y="340.95" width="5.10" height="5.10" fill="none" stroke="#72b272" stroke-width="0.8"/>
<rect x="349.23" y="350.45" width="5.10" height="5.10" fill="none" stroke="#72b272" stroke-width="0.8"/>
<rect x="357.11" y="350.05" width="5.10" height="5.10" fill="none" stroke="#72b272" stroke-width="0.8"/>
<rect x="364.99" y="351.75" width="5.10" height="5.10" fill="none" stroke="#72b272" stroke-width="0.8"/>
<rect x="372.87" y="353.95" width="5.10" height="5.10" fill="none" stroke="#72b272" stroke-width="0.8"/>
<rect x="380.75" y="352.55" width="5.10" height="5.10" fill="none" stroke="#72b272" stroke-width="0.8"/>
<rect x="388.63" y="356.45" width="5.10" height="5.10" fill="none" stroke="#72b272" stroke-width="0.8"/>
<rect x="396.51" y="360.95" width="5.10" height="5.10" fill="none" stroke="#72b272" stroke-width="0.8"/>
<rect x="404.39" y="364.25" width="5.10" height="5.10" fill="none" stroke="#72b272" stroke-width="0.8"/>
<rect x="412.27" y="372.95" width="5.10" height="5.10" fill="none" stroke="#72b272" stroke-width="0.8"/>
<rect x="420.15" y="374.85" width="5.10" height="5.10" fill="none" stroke="#72b272" stroke-width="0.8"/>
<rect x="428.03" y="377.75" width="5.10" height="5.10" fill="none" stroke="#72b272" stroke-width="0.8"/>
<rect x="435.91" y="380.25" width="5.10" height="5.10" fill="none" stroke="#72b272" stroke-width="0.8"/>
<rect x="443.79" y="383.75" width="5.10" height="5.10" fill="none" stroke="#72b272" stroke-width="0.8"/>
<rect x="451.67" y="385.35" width="5.10" height="5.10" fill="none" stroke="#72b272" stroke-width="0.8"/>
<rect x="459.55" y="385.75" width="5.10" height="5.10" fill="none" stroke="#72b272" stroke-width="0.8"/>
<rect x="467.43" y="387.15" width="5.10" height="5.10" fill="none" stroke="#72b272" stroke-width="0.8"/>
<rect x="475.31" y="382.55" width="5.10" height="5.10" fill="none" stroke="#72b272" stroke-width="0.8"/>
<rect x="483.19" y="384.15" width="5.10" height="5.10" fill="none" stroke="#72b272" stroke-width="0.8"/>
<rect x="491.07" y="384.95" width="5.10" height="5.10" fill="none" stroke="#72b272" stroke-width="0.8"/>
<rect x="498.95" y="388.75" width="5.10" height="5.10" fill="none" stroke="#72b272" stroke-width="0.8"/>
<rect x="506.83" y="381.05" width="5.10" height="5.10" fill="none" stroke="#72b272" stroke-width="0.8"/>
<rect x="514.71" y="384.15" width="5.10" height="5.10" fill="none" stroke="#72b272" stroke-width="0.8"/>
<rect x="522.59" y="380.25" width="5.10" height="5.10" fill="none" stroke="#72b272" stroke-width="0.8"/>
<rect x="530.47" y="377.95" width="5.10" height="5.10" fill="none" stroke="#72b272" stroke-width="0.8"/>
<path d="M304.50 368.20 L312.38 373.10 L320.26 367.30 L328.14 352.70 L336.02 345.60 L343.90 343.70 L351.78 351.60 L359.66 350.00 L367.54 365.50 L375.42 359.00 L383.30 348.50 L391.18 329.50 L399.06 318.80 L406.94 301.40 L414.82 293.40 L422.70 289.70 L430.58 293.40 L438.46 301.40 L446.34 311.10 L454.22 322.90 L462.10 331.40 L469.98 340.20 L477.86 339.10 L485.74 340.20 L493.62 340.40 L501.50 347.60 L509.38 335.10 L517.26 335.90 L525.14 344.80 L533.02 334.30" fill="none" stroke="#4d4d4d" stroke-width="0.8"/>
<path d="M304.50 365.90L307.20 370.50L301.80 370.50Z" fill="#e09a12" stroke="#8a5a08" stroke-width="0.8" stroke-linejoin="miter"/>
<path d="M312.38 370.80L315.08 375.40L309.68 375.40Z" fill="#e09a12" stroke="#8a5a08" stroke-width="0.8" stroke-linejoin="miter"/>
<path d="M320.26 365.00L322.96 369.60L317.56 369.60Z" fill="#e09a12" stroke="#8a5a08" stroke-width="0.8" stroke-linejoin="miter"/>
<path d="M328.14 350.40L330.84 355.00L325.44 355.00Z" fill="#e09a12" stroke="#8a5a08" stroke-width="0.8" stroke-linejoin="miter"/>
<path d="M336.02 343.30L338.72 347.90L333.32 347.90Z" fill="#e09a12" stroke="#8a5a08" stroke-width="0.8" stroke-linejoin="miter"/>
<path d="M343.90 341.40L346.60 346.00L341.20 346.00Z" fill="#e09a12" stroke="#8a5a08" stroke-width="0.8" stroke-linejoin="miter"/>
<path d="M351.78 349.30L354.48 353.90L349.08 353.90Z" fill="#e09a12" stroke="#8a5a08" stroke-width="0.8" stroke-linejoin="miter"/>
<path d="M359.66 347.70L362.36 352.30L356.96 352.30Z" fill="#e09a12" stroke="#8a5a08" stroke-width="0.8" stroke-linejoin="miter"/>
<path d="M367.54 363.20L370.24 367.80L364.84 367.80Z" fill="#e09a12" stroke="#8a5a08" stroke-width="0.8" stroke-linejoin="miter"/>
<path d="M375.42 356.70L378.12 361.30L372.72 361.30Z" fill="#e09a12" stroke="#8a5a08" stroke-width="0.8" stroke-linejoin="miter"/>
<path d="M383.30 346.20L386.00 350.80L380.60 350.80Z" fill="#e09a12" stroke="#8a5a08" stroke-width="0.8" stroke-linejoin="miter"/>
<path d="M391.18 327.20L393.88 331.80L388.48 331.80Z" fill="#e09a12" stroke="#8a5a08" stroke-width="0.8" stroke-linejoin="miter"/>
<path d="M399.06 316.50L401.76 321.10L396.36 321.10Z" fill="#e09a12" stroke="#8a5a08" stroke-width="0.8" stroke-linejoin="miter"/>
<path d="M406.94 299.10L409.64 303.70L404.24 303.70Z" fill="#e09a12" stroke="#8a5a08" stroke-width="0.8" stroke-linejoin="miter"/>
<path d="M414.82 291.10L417.52 295.70L412.12 295.70Z" fill="#e09a12" stroke="#8a5a08" stroke-width="0.8" stroke-linejoin="miter"/>
<path d="M422.70 287.40L425.40 292.00L420.00 292.00Z" fill="#e09a12" stroke="#8a5a08" stroke-width="0.8" stroke-linejoin="miter"/>
<path d="M430.58 291.10L433.28 295.70L427.88 295.70Z" fill="#e09a12" stroke="#8a5a08" stroke-width="0.8" stroke-linejoin="miter"/>
<path d="M438.46 299.10L441.16 303.70L435.76 303.70Z" fill="#e09a12" stroke="#8a5a08" stroke-width="0.8" stroke-linejoin="miter"/>
<path d="M446.34 308.80L449.04 313.40L443.64 313.40Z" fill="#e09a12" stroke="#8a5a08" stroke-width="0.8" stroke-linejoin="miter"/>
<path d="M454.22 320.60L456.92 325.20L451.52 325.20Z" fill="#e09a12" stroke="#8a5a08" stroke-width="0.8" stroke-linejoin="miter"/>
<path d="M462.10 329.10L464.80 333.70L459.40 333.70Z" fill="#e09a12" stroke="#8a5a08" stroke-width="0.8" stroke-linejoin="miter"/>
<path d="M469.98 337.90L472.68 342.50L467.28 342.50Z" fill="#e09a12" stroke="#8a5a08" stroke-width="0.8" stroke-linejoin="miter"/>
<path d="M477.86 336.80L480.56 341.40L475.16 341.40Z" fill="#e09a12" stroke="#8a5a08" stroke-width="0.8" stroke-linejoin="miter"/>
<path d="M485.74 337.90L488.44 342.50L483.04 342.50Z" fill="#e09a12" stroke="#8a5a08" stroke-width="0.8" stroke-linejoin="miter"/>
<path d="M493.62 338.10L496.32 342.70L490.92 342.70Z" fill="#e09a12" stroke="#8a5a08" stroke-width="0.8" stroke-linejoin="miter"/>
<path d="M501.50 345.30L504.20 349.90L498.80 349.90Z" fill="#e09a12" stroke="#8a5a08" stroke-width="0.8" stroke-linejoin="miter"/>
<path d="M509.38 332.80L512.08 337.40L506.68 337.40Z" fill="#e09a12" stroke="#8a5a08" stroke-width="0.8" stroke-linejoin="miter"/>
<path d="M517.26 333.60L519.96 338.20L514.56 338.20Z" fill="#e09a12" stroke="#8a5a08" stroke-width="0.8" stroke-linejoin="miter"/>
<path d="M525.14 342.50L527.84 347.10L522.44 347.10Z" fill="#e09a12" stroke="#8a5a08" stroke-width="0.8" stroke-linejoin="miter"/>
<path d="M533.02 332.00L535.72 336.60L530.32 336.60Z" fill="#e09a12" stroke="#8a5a08" stroke-width="0.8" stroke-linejoin="miter"/>
<path d="M304.50 357.70 L312.38 362.00 L320.26 356.10 L328.14 345.00 L336.02 335.60 L343.90 332.10 L351.78 338.00 L359.66 346.00 L367.54 356.20 L375.42 351.20 L383.30 336.00 L391.18 310.70 L399.06 297.20 L406.94 282.40 L414.82 278.90 L422.70 279.60 L430.58 282.40 L438.46 290.80 L446.34 299.90 L454.22 311.30 L462.10 320.60 L469.98 330.00 L477.86 330.00 L485.74 332.80 L493.62 333.70 L501.50 342.20 L509.38 328.10 L517.26 330.80 L525.14 335.50 L533.02 327.30" fill="none" stroke="#4d4d4d" stroke-width="0.8"/>
<rect x="301.95" y="355.15" width="5.10" height="5.10" fill="#2a962a" stroke="#143c14" stroke-width="0.8"/>
<rect x="309.83" y="359.45" width="5.10" height="5.10" fill="#2a962a" stroke="#143c14" stroke-width="0.8"/>
<rect x="317.71" y="353.55" width="5.10" height="5.10" fill="#2a962a" stroke="#143c14" stroke-width="0.8"/>
<rect x="325.59" y="342.45" width="5.10" height="5.10" fill="#2a962a" stroke="#143c14" stroke-width="0.8"/>
<rect x="333.47" y="333.05" width="5.10" height="5.10" fill="#2a962a" stroke="#143c14" stroke-width="0.8"/>
<rect x="341.35" y="329.55" width="5.10" height="5.10" fill="#2a962a" stroke="#143c14" stroke-width="0.8"/>
<rect x="349.23" y="335.45" width="5.10" height="5.10" fill="#2a962a" stroke="#143c14" stroke-width="0.8"/>
<rect x="357.11" y="343.45" width="5.10" height="5.10" fill="#2a962a" stroke="#143c14" stroke-width="0.8"/>
<rect x="364.99" y="353.65" width="5.10" height="5.10" fill="#2a962a" stroke="#143c14" stroke-width="0.8"/>
<rect x="372.87" y="348.65" width="5.10" height="5.10" fill="#2a962a" stroke="#143c14" stroke-width="0.8"/>
<rect x="380.75" y="333.45" width="5.10" height="5.10" fill="#2a962a" stroke="#143c14" stroke-width="0.8"/>
<rect x="388.63" y="308.15" width="5.10" height="5.10" fill="#2a962a" stroke="#143c14" stroke-width="0.8"/>
<rect x="396.51" y="294.65" width="5.10" height="5.10" fill="#2a962a" stroke="#143c14" stroke-width="0.8"/>
<rect x="404.39" y="279.85" width="5.10" height="5.10" fill="#2a962a" stroke="#143c14" stroke-width="0.8"/>
<rect x="412.27" y="276.35" width="5.10" height="5.10" fill="#2a962a" stroke="#143c14" stroke-width="0.8"/>
<rect x="420.15" y="277.05" width="5.10" height="5.10" fill="#2a962a" stroke="#143c14" stroke-width="0.8"/>
<rect x="428.03" y="279.85" width="5.10" height="5.10" fill="#2a962a" stroke="#143c14" stroke-width="0.8"/>
<rect x="435.91" y="288.25" width="5.10" height="5.10" fill="#2a962a" stroke="#143c14" stroke-width="0.8"/>
<rect x="443.79" y="297.35" width="5.10" height="5.10" fill="#2a962a" stroke="#143c14" stroke-width="0.8"/>
<rect x="451.67" y="308.75" width="5.10" height="5.10" fill="#2a962a" stroke="#143c14" stroke-width="0.8"/>
<rect x="459.55" y="318.05" width="5.10" height="5.10" fill="#2a962a" stroke="#143c14" stroke-width="0.8"/>
<rect x="467.43" y="327.45" width="5.10" height="5.10" fill="#2a962a" stroke="#143c14" stroke-width="0.8"/>
<rect x="475.31" y="327.45" width="5.10" height="5.10" fill="#2a962a" stroke="#143c14" stroke-width="0.8"/>
<rect x="483.19" y="330.25" width="5.10" height="5.10" fill="#2a962a" stroke="#143c14" stroke-width="0.8"/>
<rect x="491.07" y="331.15" width="5.10" height="5.10" fill="#2a962a" stroke="#143c14" stroke-width="0.8"/>
<rect x="498.95" y="339.65" width="5.10" height="5.10" fill="#2a962a" stroke="#143c14" stroke-width="0.8"/>
<rect x="506.83" y="325.55" width="5.10" height="5.10" fill="#2a962a" stroke="#143c14" stroke-width="0.8"/>
<rect x="514.71" y="328.25" width="5.10" height="5.10" fill="#2a962a" stroke="#143c14" stroke-width="0.8"/>
<rect x="522.59" y="332.95" width="5.10" height="5.10" fill="#2a962a" stroke="#143c14" stroke-width="0.8"/>
<rect x="530.47" y="324.75" width="5.10" height="5.10" fill="#2a962a" stroke="#143c14" stroke-width="0.8"/>
<text x="312.0" y="240.0" class="lab">d</text>
<text transform="matrix(1 0 0 0.97 402.90 251.00)" class="tb">Hematite</text>
<line x1="420.90" y1="254.60" x2="420.90" y2="266.00" stroke="#111" stroke-width="1.3"/><path d="M420.90 269.90L418.70 266.00L423.10 266.00Z" fill="#111"/>
<text transform="matrix(1 0 0 0.96 422.70 422.10)" class="tb" text-anchor="middle">Wavelength (nm)</text>
</svg>
</body></html>
